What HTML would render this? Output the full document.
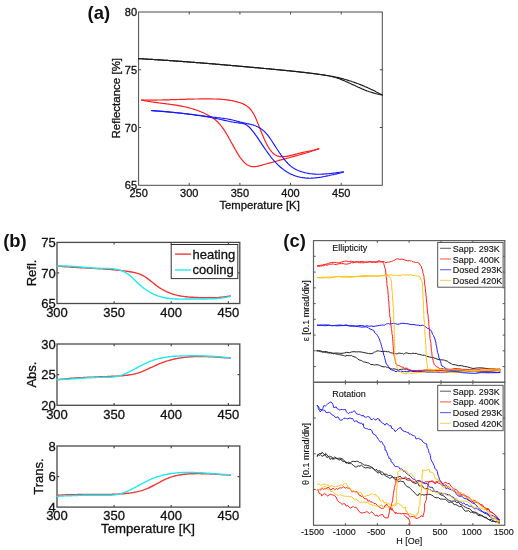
<!DOCTYPE html>
<html><head><meta charset="utf-8"><title>figure</title>
<style>
html,body{margin:0;padding:0;background:#fff;}
body{width:518px;height:550px;overflow:hidden;}
svg{display:block;font-family:"Liberation Sans",Arial,Helvetica,sans-serif;}
</style></head>
<body>
<svg width="518" height="550" viewBox="0 0 518 550">
<rect width="518" height="550" fill="#fff"/>
<text x="98.8" y="18.8" font-size="18.4" text-anchor="middle" font-weight="bold" fill="#111">(a)</text>
<g font-family="'Liberation Sans', Arial, Helvetica, sans-serif">
<rect x="138.6" y="12" width="243.7" height="173.3" fill="none" stroke="#4a4a4a" stroke-width="1.0"/>
<line x1="189.2" y1="185.3" x2="189.2" y2="182.8" stroke="#4a4a4a" stroke-width="1.0"/>
<line x1="189.2" y1="12" x2="189.2" y2="14.5" stroke="#4a4a4a" stroke-width="1.0"/>
<line x1="239.9" y1="185.3" x2="239.9" y2="182.8" stroke="#4a4a4a" stroke-width="1.0"/>
<line x1="239.9" y1="12" x2="239.9" y2="14.5" stroke="#4a4a4a" stroke-width="1.0"/>
<line x1="290.5" y1="185.3" x2="290.5" y2="182.8" stroke="#4a4a4a" stroke-width="1.0"/>
<line x1="290.5" y1="12" x2="290.5" y2="14.5" stroke="#4a4a4a" stroke-width="1.0"/>
<line x1="341.2" y1="185.3" x2="341.2" y2="182.8" stroke="#4a4a4a" stroke-width="1.0"/>
<line x1="341.2" y1="12" x2="341.2" y2="14.5" stroke="#4a4a4a" stroke-width="1.0"/>
<line x1="138.6" y1="127.5" x2="141.1" y2="127.5" stroke="#4a4a4a" stroke-width="1.0"/>
<line x1="382.3" y1="127.5" x2="379.8" y2="127.5" stroke="#4a4a4a" stroke-width="1.0"/>
<line x1="138.6" y1="69.8" x2="141.1" y2="69.8" stroke="#4a4a4a" stroke-width="1.0"/>
<line x1="382.3" y1="69.8" x2="379.8" y2="69.8" stroke="#4a4a4a" stroke-width="1.0"/>
<text x="137.1" y="189.3" font-size="11" text-anchor="end" font-weight="normal" fill="#111" stroke="#111" stroke-width="0.3">65</text>
<text x="137.1" y="131.5" font-size="11" text-anchor="end" font-weight="normal" fill="#111" stroke="#111" stroke-width="0.3">70</text>
<text x="137.1" y="73.8" font-size="11" text-anchor="end" font-weight="normal" fill="#111" stroke="#111" stroke-width="0.3">75</text>
<text x="137.1" y="16" font-size="11" text-anchor="end" font-weight="normal" fill="#111" stroke="#111" stroke-width="0.3">80</text>
<text x="138.6" y="197.3" font-size="11" text-anchor="middle" font-weight="normal" fill="#111" stroke="#111" stroke-width="0.3">250</text>
<text x="189.2" y="197.3" font-size="11" text-anchor="middle" font-weight="normal" fill="#111" stroke="#111" stroke-width="0.3">300</text>
<text x="239.9" y="197.3" font-size="11" text-anchor="middle" font-weight="normal" fill="#111" stroke="#111" stroke-width="0.3">350</text>
<text x="290.5" y="197.3" font-size="11" text-anchor="middle" font-weight="normal" fill="#111" stroke="#111" stroke-width="0.3">400</text>
<text x="341.2" y="197.3" font-size="11" text-anchor="middle" font-weight="normal" fill="#111" stroke="#111" stroke-width="0.3">450</text>
<text x="259.6" y="208.6" font-size="11.3" text-anchor="middle" font-weight="normal" fill="#111" stroke="#111" stroke-width="0.3">Temperature [K]</text>
<text x="120.2" y="98.2" font-size="11.5" text-anchor="middle" font-weight="normal" fill="#111" stroke="#111" stroke-width="0.3" transform="rotate(-90 120.2 98.2)">Reflectance [%]</text>
<path d="M138.6 58.6 L139.6 58.7 L140.6 58.7 L141.6 58.8 L142.6 58.9 L143.6 58.9 L144.6 59 L145.6 59 L146.6 59.1 L147.6 59.2 L148.6 59.2 L149.6 59.3 L150.6 59.3 L151.6 59.4 L152.6 59.5 L153.6 59.5 L154.6 59.6 L155.6 59.7 L156.6 59.7 L157.6 59.8 L158.6 59.8 L159.6 59.9 L160.6 60 L161.6 60 L162.6 60.1 L163.6 60.2 L164.6 60.2 L165.6 60.3 L166.6 60.4 L167.6 60.4 L168.6 60.5 L169.6 60.6 L170.6 60.6 L171.6 60.7 L172.6 60.8 L173.6 60.9 L174.6 60.9 L175.6 61 L176.6 61.1 L177.6 61.1 L178.6 61.2 L179.5 61.3 L180.5 61.4 L181.5 61.4 L182.5 61.5 L183.5 61.6 L184.5 61.7 L185.5 61.7 L186.5 61.8 L187.5 61.9 L188.5 62 L189.5 62 L190.5 62.1 L191.5 62.2 L192.5 62.3 L193.5 62.3 L194.5 62.4 L195.5 62.5 L196.5 62.6 L197.5 62.6 L198.5 62.7 L199.5 62.8 L200.5 62.9 L201.5 63 L202.5 63 L203.5 63.1 L204.5 63.2 L205.5 63.3 L206.5 63.4 L207.5 63.4 L208.5 63.5 L209.5 63.6 L210.5 63.7 L211.5 63.8 L212.5 63.9 L213.5 63.9 L214.5 64 L215.5 64.1 L216.5 64.2 L217.5 64.3 L218.5 64.4 L219.5 64.4 L220.5 64.5 L221.5 64.6 L222.5 64.7 L223.5 64.8 L224.5 64.9 L225.5 65 L226.5 65 L227.5 65.1 L228.5 65.2 L229.5 65.3 L230.5 65.4 L231.5 65.5 L232.5 65.6 L233.5 65.6 L234.5 65.7 L235.5 65.8 L236.5 65.9 L237.5 66 L238.5 66.1 L239.5 66.2 L240.5 66.3 L241.5 66.4 L242.5 66.4 L243.5 66.5 L244.5 66.6 L245.5 66.7 L246.5 66.8 L247.5 66.9 L248.5 67 L249.5 67.1 L250.5 67.2 L251.5 67.3 L252.5 67.3 L253.5 67.4 L254.5 67.5 L255.5 67.6 L256.5 67.7 L257.5 67.8 L258.5 67.9 L259.5 68 L260.4 68.1 L261.4 68.2 L262.4 68.3 L263.4 68.4 L264.4 68.5 L265.4 68.5 L266.4 68.6 L267.4 68.7 L268.4 68.8 L269.4 68.9 L270.4 69 L271.4 69.1 L272.4 69.2 L273.4 69.3 L274.4 69.4 L275.4 69.5 L276.4 69.6 L277.4 69.7 L278.4 69.8 L279.4 69.9 L280.4 70 L281.4 70.1 L282.4 70.2 L283.4 70.3 L284.4 70.4 L285.4 70.5 L286.4 70.6 L287.4 70.7 L288.4 70.8 L289.4 70.9 L290.4 71 L291.4 71.1 L292.4 71.2 L293.4 71.3 L294.4 71.4 L295.4 71.5 L296.4 71.6 L297.4 71.7 L298.4 71.8 L299.4 71.9 L300.4 72.1 L301.4 72.2 L302.4 72.3 L303.4 72.4 L304.4 72.5 L305.4 72.6 L306.4 72.7 L307.4 72.9 L308.4 73 L309.4 73.1 L310.4 73.2 L311.4 73.3 L312.4 73.5 L313.4 73.6 L314.4 73.7 L315.4 73.9 L316.4 74 L317.4 74.1 L318.4 74.2 L319.4 74.4 L320.4 74.5 L321.4 74.6 L322.4 74.8 L323.4 74.9 L324.4 75.1 L325.4 75.2 L326.4 75.4 L327.4 75.5 L328.4 75.7 L329.4 75.8 L330.4 76 L331.4 76.2 L332.4 76.4 L333.4 76.6 L334.4 76.8 L335.4 77 L336.4 77.2 L337.4 77.4 L338.4 77.6 L339.4 77.9 L340.4 78.1 L341.4 78.4 L342.3 78.6 L343.3 78.9 L344.3 79.2 L345.3 79.5 L346.3 79.8 L347.3 80.1 L348.3 80.4 L349.3 80.7 L350.3 81 L351.3 81.3 L352.3 81.7 L353.3 82 L354.3 82.4 L355.3 82.7 L356.3 83.1 L357.3 83.5 L358.3 83.8 L359.3 84.2 L360.3 84.6 L361.3 85 L362.3 85.4 L363.3 85.8 L364.3 86.2 L365.3 86.7 L366.3 87.1 L367.3 87.5 L368.3 88 L369.3 88.4 L370.3 88.9 L371.3 89.4 L372.3 89.9 L373.3 90.3 L374.3 90.8 L375.3 91.3 L376.3 91.9 L377.3 92.4 L378.3 92.9 L379.3 93.5 L380.3 94 L381.3 94.6 L382.3 95.1" fill="none" stroke="#1a1a1a" stroke-width="1.15" stroke-linejoin="round" stroke-linecap="round"/>
<path d="M138.6 58.6 L139.6 58.7 L140.6 58.7 L141.6 58.8 L142.6 58.9 L143.6 58.9 L144.6 59 L145.6 59 L146.6 59.1 L147.6 59.1 L148.6 59.2 L149.6 59.3 L150.6 59.3 L151.6 59.4 L152.6 59.4 L153.6 59.5 L154.6 59.6 L155.6 59.6 L156.6 59.7 L157.6 59.8 L158.6 59.8 L159.6 59.9 L160.6 59.9 L161.6 60 L162.6 60.1 L163.6 60.1 L164.6 60.2 L165.6 60.3 L166.6 60.3 L167.6 60.4 L168.6 60.5 L169.6 60.6 L170.6 60.6 L171.6 60.7 L172.6 60.8 L173.6 60.8 L174.6 60.9 L175.6 61 L176.6 61.1 L177.6 61.1 L178.6 61.2 L179.5 61.3 L180.5 61.3 L181.5 61.4 L182.5 61.5 L183.5 61.6 L184.5 61.6 L185.5 61.7 L186.5 61.8 L187.5 61.9 L188.5 61.9 L189.5 62 L190.5 62.1 L191.5 62.2 L192.5 62.3 L193.5 62.3 L194.5 62.4 L195.5 62.5 L196.5 62.6 L197.5 62.7 L198.5 62.7 L199.5 62.8 L200.5 62.9 L201.5 63 L202.5 63.1 L203.5 63.1 L204.5 63.2 L205.5 63.3 L206.5 63.4 L207.5 63.5 L208.5 63.5 L209.5 63.6 L210.5 63.7 L211.5 63.8 L212.5 63.9 L213.5 64 L214.5 64 L215.5 64.1 L216.5 64.2 L217.5 64.3 L218.5 64.4 L219.5 64.5 L220.5 64.6 L221.5 64.6 L222.5 64.7 L223.5 64.8 L224.5 64.9 L225.5 65 L226.5 65.1 L227.5 65.2 L228.5 65.2 L229.5 65.3 L230.5 65.4 L231.5 65.5 L232.5 65.6 L233.5 65.7 L234.5 65.8 L235.5 65.9 L236.5 66 L237.5 66 L238.5 66.1 L239.5 66.2 L240.5 66.3 L241.5 66.4 L242.5 66.5 L243.5 66.6 L244.5 66.7 L245.5 66.8 L246.5 66.8 L247.5 66.9 L248.5 67 L249.5 67.1 L250.5 67.2 L251.5 67.3 L252.5 67.4 L253.5 67.5 L254.5 67.6 L255.5 67.6 L256.5 67.7 L257.5 67.8 L258.5 67.9 L259.5 68 L260.4 68.1 L261.4 68.2 L262.4 68.3 L263.4 68.4 L264.4 68.5 L265.4 68.5 L266.4 68.6 L267.4 68.7 L268.4 68.8 L269.4 68.9 L270.4 69 L271.4 69.1 L272.4 69.2 L273.4 69.3 L274.4 69.4 L275.4 69.5 L276.4 69.5 L277.4 69.6 L278.4 69.7 L279.4 69.8 L280.4 69.9 L281.4 70 L282.4 70.1 L283.4 70.2 L284.4 70.3 L285.4 70.4 L286.4 70.5 L287.4 70.6 L288.4 70.7 L289.4 70.8 L290.4 70.9 L291.4 71 L292.4 71.1 L293.4 71.2 L294.4 71.3 L295.4 71.4 L296.4 71.5 L297.4 71.6 L298.4 71.7 L299.4 71.9 L300.4 72 L301.4 72.1 L302.4 72.2 L303.4 72.3 L304.4 72.4 L305.4 72.5 L306.4 72.7 L307.4 72.8 L308.4 72.9 L309.4 73 L310.4 73.2 L311.4 73.3 L312.4 73.4 L313.4 73.5 L314.4 73.7 L315.4 73.8 L316.4 74 L317.4 74.1 L318.4 74.2 L319.4 74.4 L320.4 74.5 L321.4 74.7 L322.4 74.8 L323.4 75 L324.4 75.1 L325.4 75.3 L326.4 75.5 L327.4 75.7 L328.4 75.8 L329.4 76 L330.4 76.3 L331.4 76.5 L332.4 76.7 L333.4 77 L334.4 77.2 L335.4 77.5 L336.4 77.8 L337.4 78.2 L338.4 78.5 L339.4 78.8 L340.4 79.2 L341.4 79.6 L342.3 80 L343.3 80.4 L344.3 80.8 L345.3 81.2 L346.3 81.7 L347.3 82.1 L348.3 82.6 L349.3 83 L350.3 83.5 L351.3 83.9 L352.3 84.4 L353.3 84.9 L354.3 85.3 L355.3 85.8 L356.3 86.3 L357.3 86.7 L358.3 87.2 L359.3 87.6 L360.3 88.1 L361.3 88.5 L362.3 89 L363.3 89.4 L364.3 89.8 L365.3 90.2 L366.3 90.6 L367.3 91 L368.3 91.3 L369.3 91.7 L370.3 92 L371.3 92.3 L372.3 92.6 L373.3 92.9 L374.3 93.2 L375.3 93.5 L376.3 93.8 L377.3 94 L378.3 94.2 L379.3 94.5 L380.3 94.7 L381.3 94.8 L382.3 95" fill="none" stroke="#1a1a1a" stroke-width="1.15" stroke-linejoin="round" stroke-linecap="round"/>
<path d="M141.5 100 L142.5 100 L143.5 100 L144.5 100.1 L145.5 100.1 L146.5 100.1 L147.5 100.1 L148.5 100.1 L149.5 100.1 L150.5 100.1 L151.5 100.1 L152.5 100.1 L153.5 100.1 L154.4 100.1 L155.4 100.1 L156.4 100.1 L157.4 100 L158.4 100 L159.4 100 L160.4 100 L161.4 100 L162.4 99.9 L163.4 99.9 L164.4 99.9 L165.4 99.9 L166.4 99.9 L167.4 99.8 L168.4 99.8 L169.4 99.8 L170.4 99.7 L171.4 99.7 L172.4 99.7 L173.4 99.7 L174.4 99.6 L175.4 99.6 L176.4 99.6 L177.4 99.5 L178.4 99.5 L179.4 99.5 L180.3 99.4 L181.3 99.4 L182.3 99.4 L183.3 99.3 L184.3 99.3 L185.3 99.3 L186.3 99.2 L187.3 99.2 L188.3 99.2 L189.3 99.2 L190.3 99.1 L191.3 99.1 L192.3 99.1 L193.3 99.1 L194.3 99 L195.3 99 L196.3 99 L197.3 99 L198.3 99 L199.3 98.9 L200.3 98.9 L201.3 98.9 L202.3 98.9 L203.3 98.9 L204.3 98.9 L205.2 98.9 L206.2 98.9 L207.2 98.9 L208.2 98.9 L209.2 98.9 L210.2 98.9 L211.2 98.9 L212.2 98.9 L213.2 99 L214.2 99 L215.2 99 L216.2 99 L217.2 99.1 L218.2 99.1 L219.2 99.2 L220.2 99.2 L221.2 99.3 L222.2 99.4 L223.2 99.5 L224.2 99.6 L225.2 99.7 L226.2 99.8 L227.2 99.9 L228.2 100.1 L229.2 100.2 L230.2 100.4 L231.1 100.5 L232.1 100.7 L233.1 100.9 L234.1 101.2 L235.1 101.4 L236.1 101.6 L237.1 101.9 L238.1 102.2 L239.1 102.5 L240.1 102.8 L241.1 103.1 L242.1 103.5 L243.1 103.9 L244.1 104.4 L245.1 104.9 L246.1 105.5 L247.1 106.2 L248.1 107 L249.1 107.9 L250.1 109 L251.1 110.2 L252.1 111.5 L253.1 113.1 L254.1 114.8 L255.1 116.7 L256 118.8 L257 121.1 L258 123.6 L259 126.1 L260 128.6 L261 131.2 L262 133.7 L263 136.1 L264 138.5 L265 140.7 L266 142.8 L267 144.7 L268 146.5 L269 148.1 L270 149.6 L271 150.9 L272 152.1 L273 153.2 L274 154 L275 154.7 L276 155.3 L277 155.8 L278 156.1 L279 156.4 L280 156.6 L280.9 156.6 L281.9 156.7 L282.9 156.7 L283.9 156.6 L284.9 156.5 L285.9 156.4 L286.9 156.3 L287.9 156.1 L288.9 155.9 L289.9 155.7 L290.9 155.4 L291.9 155.2 L292.9 154.9 L293.9 154.7 L294.9 154.4 L295.9 154.1 L296.9 153.9 L297.9 153.6 L298.9 153.3 L299.9 153.1 L300.9 152.8 L301.9 152.6 L302.9 152.4 L303.9 152.2 L304.9 152 L305.9 151.8 L306.8 151.6 L307.8 151.4 L308.8 151.2 L309.8 151 L310.8 150.8 L311.8 150.6 L312.8 150.3 L313.8 150.1 L314.8 149.8 L315.8 149.5 L316.8 149.2 L317.8 148.9 L318.8 148.6" fill="none" stroke="#ff2020" stroke-width="1.2" stroke-linejoin="round" stroke-linecap="round"/>
<path d="M141.5 100 L142.5 100.2 L143.5 100.4 L144.5 100.6 L145.5 100.8 L146.5 101 L147.5 101.2 L148.5 101.4 L149.5 101.5 L150.5 101.7 L151.5 101.8 L152.5 102 L153.5 102.1 L154.4 102.3 L155.4 102.4 L156.4 102.6 L157.4 102.7 L158.4 102.8 L159.4 103 L160.4 103.1 L161.4 103.2 L162.4 103.3 L163.4 103.5 L164.4 103.6 L165.4 103.7 L166.4 103.8 L167.4 104 L168.4 104.1 L169.4 104.2 L170.4 104.4 L171.4 104.5 L172.4 104.6 L173.4 104.8 L174.4 104.9 L175.4 105.1 L176.4 105.2 L177.4 105.4 L178.4 105.6 L179.4 105.8 L180.3 105.9 L181.3 106.1 L182.3 106.3 L183.3 106.5 L184.3 106.7 L185.3 107 L186.3 107.2 L187.3 107.4 L188.3 107.7 L189.3 107.9 L190.3 108.2 L191.3 108.5 L192.3 108.8 L193.3 109.1 L194.3 109.4 L195.3 109.7 L196.3 110 L197.3 110.4 L198.3 110.8 L199.3 111.1 L200.3 111.5 L201.3 112 L202.3 112.4 L203.3 112.8 L204.3 113.3 L205.2 113.8 L206.2 114.3 L207.2 114.8 L208.2 115.3 L209.2 115.8 L210.2 116.4 L211.2 117 L212.2 117.6 L213.2 118.3 L214.2 119 L215.2 119.8 L216.2 120.6 L217.2 121.5 L218.2 122.5 L219.2 123.6 L220.2 124.7 L221.2 126 L222.2 127.3 L223.2 128.7 L224.2 130.2 L225.2 131.8 L226.2 133.4 L227.2 135 L228.2 136.7 L229.2 138.5 L230.2 140.2 L231.1 142 L232.1 143.8 L233.1 145.6 L234.1 147.4 L235.1 149.2 L236.1 150.9 L237.1 152.6 L238.1 154.3 L239.1 155.8 L240.1 157.3 L241.1 158.7 L242.1 160 L243.1 161.1 L244.1 162.2 L245.1 163.1 L246.1 164 L247.1 164.7 L248.1 165.3 L249.1 165.8 L250.1 166.1 L251.1 166.4 L252.1 166.6 L253.1 166.7 L254.1 166.7 L255.1 166.6 L256 166.5 L257 166.4 L258 166.1 L259 165.9 L260 165.6 L261 165.4 L262 165.1 L263 164.8 L264 164.5 L265 164.2 L266 164 L267 163.7 L268 163.4 L269 163.1 L270 162.9 L271 162.6 L272 162.3 L273 162.1 L274 161.8 L275 161.5 L276 161.3 L277 161 L278 160.7 L279 160.4 L280 160.2 L280.9 159.9 L281.9 159.6 L282.9 159.4 L283.9 159.1 L284.9 158.8 L285.9 158.6 L286.9 158.3 L287.9 158 L288.9 157.8 L289.9 157.5 L290.9 157.2 L291.9 156.9 L292.9 156.7 L293.9 156.4 L294.9 156.1 L295.9 155.8 L296.9 155.6 L297.9 155.3 L298.9 155 L299.9 154.7 L300.9 154.4 L301.9 154.1 L302.9 153.8 L303.9 153.6 L304.9 153.3 L305.9 153 L306.8 152.7 L307.8 152.4 L308.8 152.1 L309.8 151.8 L310.8 151.4 L311.8 151.1 L312.8 150.8 L313.8 150.5 L314.8 150.2 L315.8 149.9 L316.8 149.5 L317.8 149.2 L318.8 148.9" fill="none" stroke="#ff2020" stroke-width="1.2" stroke-linejoin="round" stroke-linecap="round"/>
<path d="M151.7 110.6 L152.7 110.7 L153.7 110.8 L154.7 110.8 L155.7 110.9 L156.7 111 L157.7 111.1 L158.7 111.2 L159.7 111.3 L160.7 111.3 L161.7 111.4 L162.7 111.5 L163.7 111.6 L164.7 111.7 L165.7 111.8 L166.7 111.9 L167.7 111.9 L168.7 112 L169.7 112.1 L170.7 112.2 L171.7 112.3 L172.7 112.4 L173.7 112.5 L174.7 112.6 L175.7 112.7 L176.7 112.8 L177.7 112.9 L178.7 113 L179.7 113.1 L180.7 113.2 L181.7 113.3 L182.7 113.4 L183.6 113.5 L184.6 113.7 L185.6 113.8 L186.6 113.9 L187.6 114 L188.6 114.1 L189.6 114.3 L190.6 114.4 L191.6 114.5 L192.6 114.7 L193.6 114.8 L194.6 114.9 L195.6 115.1 L196.6 115.2 L197.6 115.3 L198.6 115.5 L199.6 115.6 L200.6 115.8 L201.6 115.9 L202.6 116.1 L203.6 116.3 L204.6 116.4 L205.6 116.6 L206.6 116.8 L207.6 116.9 L208.6 117.1 L209.6 117.3 L210.6 117.5 L211.6 117.7 L212.6 117.8 L213.6 118 L214.6 118.2 L215.6 118.4 L216.6 118.6 L217.6 118.8 L218.6 119 L219.6 119.3 L220.6 119.5 L221.6 119.7 L222.6 119.9 L223.6 120.1 L224.6 120.4 L225.6 120.6 L226.6 120.8 L227.6 121 L228.6 121.2 L229.6 121.5 L230.6 121.7 L231.6 121.9 L232.6 122 L233.6 122.2 L234.6 122.4 L235.6 122.5 L236.6 122.7 L237.6 122.8 L238.6 122.9 L239.6 123.1 L240.6 123.1 L241.6 123.2 L242.6 123.4 L243.6 123.6 L244.6 123.9 L245.6 124.4 L246.6 124.9 L247.5 125.7 L248.5 126.5 L249.5 127.4 L250.5 128.5 L251.5 129.6 L252.5 130.8 L253.5 132.1 L254.5 133.4 L255.5 134.8 L256.5 136.2 L257.5 137.6 L258.5 139.1 L259.5 140.6 L260.5 142.1 L261.5 143.6 L262.5 145.1 L263.5 146.6 L264.5 148.1 L265.5 149.5 L266.5 151 L267.5 152.4 L268.5 153.8 L269.5 155.2 L270.5 156.5 L271.5 157.8 L272.5 159 L273.5 160.2 L274.5 161.3 L275.5 162.4 L276.5 163.4 L277.5 164.4 L278.5 165.4 L279.5 166.3 L280.5 167.2 L281.5 168 L282.5 168.8 L283.5 169.6 L284.5 170.3 L285.5 171 L286.5 171.7 L287.5 172.3 L288.5 172.8 L289.5 173.4 L290.5 173.9 L291.5 174.4 L292.5 174.8 L293.5 175.2 L294.5 175.6 L295.5 176 L296.5 176.3 L297.5 176.6 L298.5 176.8 L299.5 177.1 L300.5 177.3 L301.5 177.5 L302.5 177.6 L303.5 177.8 L304.5 177.9 L305.5 178 L306.5 178.1 L307.5 178.1 L308.5 178.1 L309.5 178.2 L310.5 178.2 L311.4 178.1 L312.4 178.1 L313.4 178 L314.4 178 L315.4 177.9 L316.4 177.8 L317.4 177.6 L318.4 177.5 L319.4 177.4 L320.4 177.2 L321.4 177.1 L322.4 176.9 L323.4 176.7 L324.4 176.5 L325.4 176.3 L326.4 176.1 L327.4 175.9 L328.4 175.7 L329.4 175.5 L330.4 175.2 L331.4 175 L332.4 174.8 L333.4 174.6 L334.4 174.3 L335.4 174.1 L336.4 173.9 L337.4 173.6 L338.4 173.4 L339.4 173.2 L340.4 173 L341.4 172.7 L342.4 172.5 L343.4 172.3" fill="none" stroke="#1818ff" stroke-width="1.15" stroke-linejoin="round" stroke-linecap="round"/>
<path d="M151.7 110.6 L152.7 110.6 L153.7 110.7 L154.7 110.8 L155.7 110.8 L156.7 110.9 L157.7 111 L158.7 111 L159.7 111.1 L160.7 111.2 L161.7 111.3 L162.7 111.3 L163.7 111.4 L164.7 111.5 L165.7 111.6 L166.7 111.7 L167.7 111.8 L168.7 111.9 L169.7 112 L170.7 112.1 L171.7 112.2 L172.7 112.3 L173.7 112.4 L174.7 112.5 L175.7 112.6 L176.7 112.7 L177.7 112.8 L178.7 112.9 L179.7 113 L180.7 113.1 L181.7 113.2 L182.7 113.3 L183.6 113.5 L184.6 113.6 L185.6 113.7 L186.6 113.8 L187.6 113.9 L188.6 114.1 L189.6 114.2 L190.6 114.3 L191.6 114.4 L192.6 114.5 L193.6 114.7 L194.6 114.8 L195.6 114.9 L196.6 115 L197.6 115.2 L198.6 115.3 L199.6 115.4 L200.6 115.5 L201.6 115.7 L202.6 115.8 L203.6 115.9 L204.6 116.1 L205.6 116.2 L206.6 116.3 L207.6 116.4 L208.6 116.6 L209.6 116.7 L210.6 116.8 L211.6 116.9 L212.6 117.1 L213.6 117.2 L214.6 117.3 L215.6 117.4 L216.6 117.6 L217.6 117.7 L218.6 117.8 L219.6 117.9 L220.6 118 L221.6 118.2 L222.6 118.3 L223.6 118.4 L224.6 118.5 L225.6 118.7 L226.6 118.8 L227.6 119 L228.6 119.2 L229.6 119.4 L230.6 119.6 L231.6 119.8 L232.6 120 L233.6 120.3 L234.6 120.5 L235.6 120.8 L236.6 121.1 L237.6 121.3 L238.6 121.6 L239.6 121.9 L240.6 122.2 L241.6 122.4 L242.6 122.7 L243.6 122.9 L244.6 123.1 L245.6 123.3 L246.6 123.5 L247.5 123.7 L248.5 123.9 L249.5 124.1 L250.5 124.3 L251.5 124.6 L252.5 124.8 L253.5 125.1 L254.5 125.5 L255.5 125.8 L256.5 126.3 L257.5 126.7 L258.5 127.2 L259.5 127.8 L260.5 128.4 L261.5 129.1 L262.5 129.9 L263.5 130.7 L264.5 131.7 L265.5 132.7 L266.5 133.8 L267.5 134.9 L268.5 136.2 L269.5 137.6 L270.5 139 L271.5 140.5 L272.5 142 L273.5 143.6 L274.5 145.1 L275.5 146.7 L276.5 148.3 L277.5 149.8 L278.5 151.3 L279.5 152.8 L280.5 154.2 L281.5 155.7 L282.5 157 L283.5 158.3 L284.5 159.6 L285.5 160.8 L286.5 162 L287.5 163 L288.5 164.1 L289.5 165 L290.5 165.9 L291.5 166.7 L292.5 167.4 L293.5 168.1 L294.5 168.7 L295.5 169.3 L296.5 169.8 L297.5 170.2 L298.5 170.7 L299.5 171 L300.5 171.4 L301.5 171.7 L302.5 172 L303.5 172.3 L304.5 172.6 L305.5 172.8 L306.5 173 L307.5 173.2 L308.5 173.4 L309.5 173.6 L310.5 173.7 L311.4 173.8 L312.4 173.9 L313.4 174 L314.4 174.1 L315.4 174.1 L316.4 174.2 L317.4 174.2 L318.4 174.2 L319.4 174.2 L320.4 174.2 L321.4 174.2 L322.4 174.1 L323.4 174.1 L324.4 174 L325.4 173.9 L326.4 173.9 L327.4 173.8 L328.4 173.7 L329.4 173.6 L330.4 173.5 L331.4 173.4 L332.4 173.2 L333.4 173.1 L334.4 173 L335.4 172.9 L336.4 172.7 L337.4 172.6 L338.4 172.5 L339.4 172.3 L340.4 172.2 L341.4 172 L342.4 171.9 L343.4 171.8" fill="none" stroke="#1818ff" stroke-width="1.15" stroke-linejoin="round" stroke-linecap="round"/>
</g>
<g font-family="'Liberation Sans', Arial, Helvetica, sans-serif">
<text x="15" y="246.7" font-size="18.4" text-anchor="middle" font-weight="bold" fill="#111">(b)</text>
<rect x="57" y="242.4" width="182.8" height="61.1" fill="none" stroke="#484848" stroke-width="1.3"/>
<line x1="114.1" y1="303.5" x2="114.1" y2="301.3" stroke="#484848" stroke-width="1.2"/>
<line x1="114.1" y1="242.4" x2="114.1" y2="244.6" stroke="#484848" stroke-width="1.2"/>
<line x1="171.2" y1="303.5" x2="171.2" y2="301.3" stroke="#484848" stroke-width="1.2"/>
<line x1="171.2" y1="242.4" x2="171.2" y2="244.6" stroke="#484848" stroke-width="1.2"/>
<line x1="228.4" y1="303.5" x2="228.4" y2="301.3" stroke="#484848" stroke-width="1.2"/>
<line x1="228.4" y1="242.4" x2="228.4" y2="244.6" stroke="#484848" stroke-width="1.2"/>
<line x1="57" y1="272.9" x2="59.2" y2="272.9" stroke="#484848" stroke-width="1.2"/>
<line x1="239.8" y1="272.9" x2="237.6" y2="272.9" stroke="#484848" stroke-width="1.2"/>
<text x="55.8" y="308.1" font-size="13" text-anchor="end" font-weight="normal" fill="#111" stroke="#111" stroke-width="0.3">65</text>
<text x="55.8" y="277.6" font-size="13" text-anchor="end" font-weight="normal" fill="#111" stroke="#111" stroke-width="0.3">70</text>
<text x="55.8" y="247" font-size="13" text-anchor="end" font-weight="normal" fill="#111" stroke="#111" stroke-width="0.3">75</text>
<text x="57" y="316.7" font-size="13" text-anchor="middle" font-weight="normal" fill="#111" stroke="#111" stroke-width="0.3">300</text>
<text x="114.1" y="316.7" font-size="13" text-anchor="middle" font-weight="normal" fill="#111" stroke="#111" stroke-width="0.3">350</text>
<text x="171.2" y="316.7" font-size="13" text-anchor="middle" font-weight="normal" fill="#111" stroke="#111" stroke-width="0.3">400</text>
<text x="228.4" y="316.7" font-size="13" text-anchor="middle" font-weight="normal" fill="#111" stroke="#111" stroke-width="0.3">450</text>
<text x="35.7" y="272.9" font-size="13" text-anchor="middle" font-weight="normal" fill="#111" stroke="#111" stroke-width="0.3" transform="rotate(-90 35.7 272.9)">Refl.</text>
<rect x="57" y="344" width="182.8" height="61.3" fill="none" stroke="#484848" stroke-width="1.3"/>
<line x1="114.1" y1="405.3" x2="114.1" y2="403.1" stroke="#484848" stroke-width="1.2"/>
<line x1="114.1" y1="344" x2="114.1" y2="346.2" stroke="#484848" stroke-width="1.2"/>
<line x1="171.2" y1="405.3" x2="171.2" y2="403.1" stroke="#484848" stroke-width="1.2"/>
<line x1="171.2" y1="344" x2="171.2" y2="346.2" stroke="#484848" stroke-width="1.2"/>
<line x1="228.4" y1="405.3" x2="228.4" y2="403.1" stroke="#484848" stroke-width="1.2"/>
<line x1="228.4" y1="344" x2="228.4" y2="346.2" stroke="#484848" stroke-width="1.2"/>
<line x1="57" y1="374.6" x2="59.2" y2="374.6" stroke="#484848" stroke-width="1.2"/>
<line x1="239.8" y1="374.6" x2="237.6" y2="374.6" stroke="#484848" stroke-width="1.2"/>
<text x="55.8" y="409.9" font-size="13" text-anchor="end" font-weight="normal" fill="#111" stroke="#111" stroke-width="0.3">20</text>
<text x="55.8" y="379.2" font-size="13" text-anchor="end" font-weight="normal" fill="#111" stroke="#111" stroke-width="0.3">25</text>
<text x="55.8" y="348.6" font-size="13" text-anchor="end" font-weight="normal" fill="#111" stroke="#111" stroke-width="0.3">30</text>
<text x="57" y="418.5" font-size="13" text-anchor="middle" font-weight="normal" fill="#111" stroke="#111" stroke-width="0.3">300</text>
<text x="114.1" y="418.5" font-size="13" text-anchor="middle" font-weight="normal" fill="#111" stroke="#111" stroke-width="0.3">350</text>
<text x="171.2" y="418.5" font-size="13" text-anchor="middle" font-weight="normal" fill="#111" stroke="#111" stroke-width="0.3">400</text>
<text x="228.4" y="418.5" font-size="13" text-anchor="middle" font-weight="normal" fill="#111" stroke="#111" stroke-width="0.3">450</text>
<text x="36.4" y="374.6" font-size="13" text-anchor="middle" font-weight="normal" fill="#111" stroke="#111" stroke-width="0.3" transform="rotate(-90 36.4 374.6)">Abs.</text>
<rect x="57" y="446" width="182.8" height="61.1" fill="none" stroke="#484848" stroke-width="1.3"/>
<line x1="114.1" y1="507.1" x2="114.1" y2="504.9" stroke="#484848" stroke-width="1.2"/>
<line x1="114.1" y1="446" x2="114.1" y2="448.2" stroke="#484848" stroke-width="1.2"/>
<line x1="171.2" y1="507.1" x2="171.2" y2="504.9" stroke="#484848" stroke-width="1.2"/>
<line x1="171.2" y1="446" x2="171.2" y2="448.2" stroke="#484848" stroke-width="1.2"/>
<line x1="228.4" y1="507.1" x2="228.4" y2="504.9" stroke="#484848" stroke-width="1.2"/>
<line x1="228.4" y1="446" x2="228.4" y2="448.2" stroke="#484848" stroke-width="1.2"/>
<line x1="57" y1="476.6" x2="59.2" y2="476.6" stroke="#484848" stroke-width="1.2"/>
<line x1="239.8" y1="476.6" x2="237.6" y2="476.6" stroke="#484848" stroke-width="1.2"/>
<text x="55.8" y="511.7" font-size="13" text-anchor="end" font-weight="normal" fill="#111" stroke="#111" stroke-width="0.3">4</text>
<text x="55.8" y="481.2" font-size="13" text-anchor="end" font-weight="normal" fill="#111" stroke="#111" stroke-width="0.3">6</text>
<text x="55.8" y="450.6" font-size="13" text-anchor="end" font-weight="normal" fill="#111" stroke="#111" stroke-width="0.3">8</text>
<text x="57" y="520.3" font-size="13" text-anchor="middle" font-weight="normal" fill="#111" stroke="#111" stroke-width="0.3">300</text>
<text x="114.1" y="520.3" font-size="13" text-anchor="middle" font-weight="normal" fill="#111" stroke="#111" stroke-width="0.3">350</text>
<text x="171.2" y="520.3" font-size="13" text-anchor="middle" font-weight="normal" fill="#111" stroke="#111" stroke-width="0.3">400</text>
<text x="228.4" y="520.3" font-size="13" text-anchor="middle" font-weight="normal" fill="#111" stroke="#111" stroke-width="0.3">450</text>
<text x="43.3" y="476.6" font-size="13" text-anchor="middle" font-weight="normal" fill="#111" stroke="#111" stroke-width="0.3" transform="rotate(-90 43.3 476.6)">Trans.</text>
<text x="148" y="533.4" font-size="13.2" text-anchor="middle" font-weight="normal" fill="#111" stroke="#111" stroke-width="0.3">Temperature [K]</text>
<path d="M56.8 265.9 L57.8 266 L58.8 266.1 L59.8 266.2 L60.8 266.3 L61.8 266.4 L62.8 266.5 L63.8 266.6 L64.8 266.7 L65.8 266.7 L66.8 266.8 L67.8 266.9 L68.8 266.9 L69.8 267 L70.8 267.1 L71.8 267.2 L72.8 267.2 L73.8 267.3 L74.8 267.3 L75.8 267.4 L76.8 267.5 L77.8 267.5 L78.7 267.6 L79.7 267.6 L80.7 267.7 L81.7 267.7 L82.7 267.8 L83.7 267.9 L84.7 267.9 L85.7 268 L86.7 268 L87.7 268.1 L88.7 268.1 L89.7 268.2 L90.7 268.2 L91.7 268.3 L92.7 268.3 L93.7 268.4 L94.7 268.4 L95.7 268.5 L96.7 268.6 L97.7 268.6 L98.7 268.7 L99.7 268.7 L100.7 268.8 L101.7 268.9 L102.7 268.9 L103.7 269 L104.7 269.1 L105.7 269.1 L106.7 269.2 L107.7 269.3 L108.7 269.4 L109.7 269.4 L110.7 269.5 L111.7 269.6 L112.7 269.7 L113.7 269.8 L114.7 269.9 L115.7 270 L116.7 270.1 L117.7 270.2 L118.7 270.3 L119.7 270.4 L120.7 270.5 L121.7 270.6 L122.6 270.7 L123.6 270.9 L124.6 271 L125.6 271.1 L126.6 271.2 L127.6 271.4 L128.6 271.5 L129.6 271.7 L130.6 271.8 L131.6 272 L132.6 272.2 L133.6 272.4 L134.6 272.6 L135.6 272.8 L136.6 273.1 L137.6 273.4 L138.6 273.7 L139.6 274.1 L140.6 274.5 L141.6 274.9 L142.6 275.4 L143.6 275.9 L144.6 276.5 L145.6 277.2 L146.6 277.9 L147.6 278.6 L148.6 279.4 L149.6 280.1 L150.6 280.9 L151.6 281.7 L152.6 282.5 L153.6 283.3 L154.6 284.1 L155.6 284.9 L156.6 285.7 L157.6 286.4 L158.6 287.1 L159.6 287.8 L160.6 288.4 L161.6 289 L162.6 289.6 L163.6 290.2 L164.6 290.7 L165.5 291.2 L166.5 291.7 L167.5 292.1 L168.5 292.5 L169.5 292.9 L170.5 293.3 L171.5 293.7 L172.5 294 L173.5 294.3 L174.5 294.6 L175.5 294.9 L176.5 295.1 L177.5 295.3 L178.5 295.6 L179.5 295.8 L180.5 296 L181.5 296.1 L182.5 296.3 L183.5 296.4 L184.5 296.6 L185.5 296.7 L186.5 296.8 L187.5 296.9 L188.5 297 L189.5 297.1 L190.5 297.2 L191.5 297.2 L192.5 297.3 L193.5 297.3 L194.5 297.4 L195.5 297.4 L196.5 297.5 L197.5 297.5 L198.5 297.6 L199.5 297.6 L200.5 297.7 L201.5 297.7 L202.5 297.7 L203.5 297.8 L204.5 297.8 L205.5 297.8 L206.5 297.8 L207.5 297.8 L208.5 297.8 L209.4 297.8 L210.4 297.8 L211.4 297.8 L212.4 297.8 L213.4 297.8 L214.4 297.7 L215.4 297.7 L216.4 297.6 L217.4 297.6 L218.4 297.5 L219.4 297.4 L220.4 297.3 L221.4 297.2 L222.4 297.1 L223.4 297 L224.4 296.9 L225.4 296.7 L226.4 296.6 L227.4 296.4 L228.4 296.2 L229.4 296.1 L230.4 295.9" fill="none" stroke="#f03838" stroke-width="1.4" stroke-linejoin="round" stroke-linecap="round"/>
<path d="M56.8 266 L57.8 266 L58.8 265.9 L59.8 265.9 L60.8 265.9 L61.8 265.9 L62.8 265.9 L63.8 266 L64.8 266 L65.8 266 L66.8 266 L67.8 266.1 L68.8 266.1 L69.8 266.2 L70.8 266.3 L71.8 266.3 L72.8 266.4 L73.8 266.5 L74.8 266.5 L75.8 266.6 L76.8 266.7 L77.8 266.8 L78.7 266.9 L79.7 266.9 L80.7 267 L81.7 267.1 L82.7 267.2 L83.7 267.3 L84.7 267.4 L85.7 267.5 L86.7 267.5 L87.7 267.6 L88.7 267.7 L89.7 267.8 L90.7 267.9 L91.7 267.9 L92.7 268 L93.7 268.1 L94.7 268.1 L95.7 268.2 L96.7 268.2 L97.7 268.3 L98.7 268.3 L99.7 268.3 L100.7 268.4 L101.7 268.4 L102.7 268.4 L103.7 268.4 L104.7 268.4 L105.7 268.4 L106.7 268.5 L107.7 268.5 L108.7 268.5 L109.7 268.6 L110.7 268.6 L111.7 268.7 L112.7 268.8 L113.7 268.9 L114.7 269 L115.7 269.2 L116.7 269.4 L117.7 269.6 L118.7 269.8 L119.7 270.1 L120.7 270.4 L121.7 270.7 L122.6 271.1 L123.6 271.5 L124.6 272 L125.6 272.6 L126.6 273.2 L127.6 273.9 L128.6 274.6 L129.6 275.4 L130.6 276.2 L131.6 277.1 L132.6 278 L133.6 279 L134.6 280 L135.6 281 L136.6 281.9 L137.6 282.9 L138.6 283.8 L139.6 284.8 L140.6 285.6 L141.6 286.5 L142.6 287.3 L143.6 288.1 L144.6 288.8 L145.6 289.5 L146.6 290.2 L147.6 290.9 L148.6 291.5 L149.6 292.1 L150.6 292.6 L151.6 293.2 L152.6 293.7 L153.6 294.1 L154.6 294.6 L155.6 295 L156.6 295.4 L157.6 295.8 L158.6 296.1 L159.6 296.4 L160.6 296.7 L161.6 297 L162.6 297.2 L163.6 297.5 L164.6 297.7 L165.5 297.9 L166.5 298 L167.5 298.2 L168.5 298.3 L169.5 298.5 L170.5 298.6 L171.5 298.7 L172.5 298.8 L173.5 298.8 L174.5 298.9 L175.5 299 L176.5 299 L177.5 299 L178.5 299 L179.5 299.1 L180.5 299.1 L181.5 299.1 L182.5 299.1 L183.5 299.1 L184.5 299.1 L185.5 299 L186.5 299 L187.5 299 L188.5 299 L189.5 299 L190.5 299 L191.5 299 L192.5 299 L193.5 299 L194.5 299 L195.5 299 L196.5 299 L197.5 299 L198.5 299 L199.5 299 L200.5 299 L201.5 299 L202.5 299 L203.5 299 L204.5 299 L205.5 299 L206.5 299 L207.5 298.9 L208.5 298.9 L209.4 298.9 L210.4 298.9 L211.4 298.8 L212.4 298.8 L213.4 298.7 L214.4 298.7 L215.4 298.6 L216.4 298.6 L217.4 298.5 L218.4 298.4 L219.4 298.3 L220.4 298.2 L221.4 298.1 L222.4 297.9 L223.4 297.8 L224.4 297.6 L225.4 297.5 L226.4 297.3 L227.4 297.1 L228.4 296.9 L229.4 296.7 L230.4 296.4" fill="none" stroke="#20e8f0" stroke-width="1.4" stroke-linejoin="round" stroke-linecap="round"/>
<path d="M56.8 379.8 L57.8 379.6 L58.8 379.5 L59.8 379.4 L60.8 379.3 L61.8 379.2 L62.8 379.1 L63.8 379 L64.8 378.9 L65.8 378.8 L66.8 378.7 L67.8 378.6 L68.8 378.5 L69.8 378.4 L70.8 378.3 L71.8 378.2 L72.8 378.2 L73.8 378.1 L74.8 378 L75.8 378 L76.8 377.9 L77.8 377.8 L78.7 377.8 L79.7 377.7 L80.7 377.7 L81.7 377.6 L82.7 377.6 L83.7 377.5 L84.7 377.5 L85.7 377.4 L86.7 377.4 L87.7 377.3 L88.7 377.3 L89.7 377.2 L90.7 377.2 L91.7 377.2 L92.7 377.1 L93.7 377.1 L94.7 377 L95.7 377 L96.7 377 L97.7 376.9 L98.7 376.9 L99.7 376.8 L100.7 376.8 L101.7 376.8 L102.7 376.7 L103.7 376.7 L104.7 376.7 L105.7 376.6 L106.7 376.6 L107.7 376.5 L108.7 376.5 L109.7 376.4 L110.7 376.4 L111.7 376.3 L112.7 376.3 L113.7 376.2 L114.7 376.2 L115.7 376.1 L116.7 376.1 L117.7 376 L118.7 376 L119.7 375.9 L120.7 375.8 L121.7 375.7 L122.6 375.7 L123.6 375.6 L124.6 375.5 L125.6 375.4 L126.6 375.3 L127.6 375.2 L128.6 375 L129.6 374.9 L130.6 374.7 L131.6 374.6 L132.6 374.4 L133.6 374.2 L134.6 373.9 L135.6 373.7 L136.6 373.4 L137.6 373.1 L138.6 372.8 L139.6 372.5 L140.6 372.1 L141.6 371.8 L142.6 371.4 L143.6 370.9 L144.6 370.5 L145.6 370.1 L146.6 369.6 L147.6 369.2 L148.6 368.7 L149.6 368.2 L150.6 367.7 L151.6 367.3 L152.6 366.8 L153.6 366.3 L154.6 365.9 L155.6 365.4 L156.6 365 L157.6 364.5 L158.6 364.1 L159.6 363.7 L160.6 363.3 L161.6 362.9 L162.6 362.5 L163.6 362.2 L164.6 361.8 L165.5 361.5 L166.5 361.2 L167.5 360.9 L168.5 360.6 L169.5 360.3 L170.5 360 L171.5 359.8 L172.5 359.5 L173.5 359.3 L174.5 359 L175.5 358.8 L176.5 358.6 L177.5 358.4 L178.5 358.3 L179.5 358.1 L180.5 357.9 L181.5 357.8 L182.5 357.6 L183.5 357.5 L184.5 357.4 L185.5 357.2 L186.5 357.1 L187.5 357 L188.5 357 L189.5 356.9 L190.5 356.8 L191.5 356.7 L192.5 356.7 L193.5 356.6 L194.5 356.6 L195.5 356.6 L196.5 356.5 L197.5 356.5 L198.5 356.5 L199.5 356.5 L200.5 356.5 L201.5 356.5 L202.5 356.5 L203.5 356.5 L204.5 356.6 L205.5 356.6 L206.5 356.6 L207.5 356.6 L208.5 356.7 L209.4 356.7 L210.4 356.8 L211.4 356.8 L212.4 356.9 L213.4 356.9 L214.4 357 L215.4 357.1 L216.4 357.1 L217.4 357.2 L218.4 357.3 L219.4 357.3 L220.4 357.4 L221.4 357.5 L222.4 357.5 L223.4 357.6 L224.4 357.7 L225.4 357.7 L226.4 357.8 L227.4 357.8 L228.4 357.9 L229.4 358 L230.4 358" fill="none" stroke="#f03838" stroke-width="1.4" stroke-linejoin="round" stroke-linecap="round"/>
<path d="M56.8 379.7 L57.8 379.7 L58.8 379.7 L59.8 379.6 L60.8 379.6 L61.8 379.5 L62.8 379.5 L63.8 379.4 L64.8 379.4 L65.8 379.3 L66.8 379.3 L67.8 379.2 L68.8 379.2 L69.8 379.1 L70.8 379 L71.8 379 L72.8 378.9 L73.8 378.8 L74.8 378.7 L75.8 378.7 L76.8 378.6 L77.8 378.5 L78.7 378.5 L79.7 378.4 L80.7 378.3 L81.7 378.2 L82.7 378.2 L83.7 378.1 L84.7 378 L85.7 378 L86.7 377.9 L87.7 377.8 L88.7 377.8 L89.7 377.7 L90.7 377.7 L91.7 377.6 L92.7 377.6 L93.7 377.5 L94.7 377.5 L95.7 377.5 L96.7 377.4 L97.7 377.4 L98.7 377.4 L99.7 377.4 L100.7 377.4 L101.7 377.4 L102.7 377.3 L103.7 377.3 L104.7 377.3 L105.7 377.3 L106.7 377.3 L107.7 377.3 L108.7 377.3 L109.7 377.2 L110.7 377.2 L111.7 377.1 L112.7 377 L113.7 376.9 L114.7 376.8 L115.7 376.6 L116.7 376.4 L117.7 376.2 L118.7 376 L119.7 375.7 L120.7 375.4 L121.7 375.1 L122.6 374.8 L123.6 374.4 L124.6 374 L125.6 373.6 L126.6 373.1 L127.6 372.6 L128.6 372.2 L129.6 371.7 L130.6 371.2 L131.6 370.7 L132.6 370.1 L133.6 369.6 L134.6 369.1 L135.6 368.5 L136.6 368 L137.6 367.4 L138.6 366.9 L139.6 366.3 L140.6 365.8 L141.6 365.3 L142.6 364.8 L143.6 364.3 L144.6 363.8 L145.6 363.3 L146.6 362.8 L147.6 362.4 L148.6 361.9 L149.6 361.5 L150.6 361.1 L151.6 360.8 L152.6 360.4 L153.6 360.1 L154.6 359.7 L155.6 359.4 L156.6 359.2 L157.6 358.9 L158.6 358.6 L159.6 358.4 L160.6 358.2 L161.6 358 L162.6 357.8 L163.6 357.6 L164.6 357.4 L165.5 357.2 L166.5 357.1 L167.5 357 L168.5 356.8 L169.5 356.7 L170.5 356.6 L171.5 356.5 L172.5 356.4 L173.5 356.3 L174.5 356.3 L175.5 356.2 L176.5 356.2 L177.5 356.1 L178.5 356.1 L179.5 356 L180.5 356 L181.5 356 L182.5 355.9 L183.5 355.9 L184.5 355.9 L185.5 355.9 L186.5 355.9 L187.5 355.9 L188.5 355.8 L189.5 355.8 L190.5 355.8 L191.5 355.8 L192.5 355.8 L193.5 355.8 L194.5 355.8 L195.5 355.8 L196.5 355.8 L197.5 355.8 L198.5 355.9 L199.5 355.9 L200.5 355.9 L201.5 355.9 L202.5 355.9 L203.5 356 L204.5 356 L205.5 356 L206.5 356 L207.5 356.1 L208.5 356.1 L209.4 356.2 L210.4 356.2 L211.4 356.3 L212.4 356.3 L213.4 356.4 L214.4 356.4 L215.4 356.5 L216.4 356.6 L217.4 356.7 L218.4 356.7 L219.4 356.8 L220.4 356.9 L221.4 357 L222.4 357.1 L223.4 357.2 L224.4 357.3 L225.4 357.4 L226.4 357.5 L227.4 357.6 L228.4 357.8 L229.4 357.9 L230.4 358" fill="none" stroke="#20e8f0" stroke-width="1.4" stroke-linejoin="round" stroke-linecap="round"/>
<path d="M56.8 495.4 L57.8 495.3 L58.8 495.2 L59.8 495.1 L60.8 495.1 L61.8 495 L62.8 495 L63.8 494.9 L64.8 494.9 L65.8 494.8 L66.8 494.8 L67.8 494.8 L68.8 494.7 L69.8 494.7 L70.8 494.7 L71.8 494.6 L72.8 494.6 L73.8 494.6 L74.8 494.6 L75.8 494.6 L76.8 494.6 L77.8 494.5 L78.7 494.5 L79.7 494.5 L80.7 494.5 L81.7 494.5 L82.7 494.5 L83.7 494.5 L84.7 494.5 L85.7 494.5 L86.7 494.5 L87.7 494.5 L88.7 494.5 L89.7 494.5 L90.7 494.5 L91.7 494.5 L92.7 494.5 L93.7 494.5 L94.7 494.5 L95.7 494.5 L96.7 494.5 L97.7 494.5 L98.7 494.5 L99.7 494.5 L100.7 494.5 L101.7 494.5 L102.7 494.5 L103.7 494.5 L104.7 494.5 L105.7 494.5 L106.7 494.5 L107.7 494.5 L108.7 494.4 L109.7 494.4 L110.7 494.4 L111.7 494.4 L112.7 494.3 L113.7 494.3 L114.7 494.2 L115.7 494.2 L116.7 494.2 L117.7 494.1 L118.7 494 L119.7 494 L120.7 493.9 L121.7 493.9 L122.6 493.8 L123.6 493.7 L124.6 493.6 L125.6 493.5 L126.6 493.4 L127.6 493.3 L128.6 493.2 L129.6 493.1 L130.6 492.9 L131.6 492.8 L132.6 492.6 L133.6 492.5 L134.6 492.3 L135.6 492.1 L136.6 491.9 L137.6 491.6 L138.6 491.4 L139.6 491.1 L140.6 490.9 L141.6 490.6 L142.6 490.3 L143.6 489.9 L144.6 489.6 L145.6 489.2 L146.6 488.8 L147.6 488.4 L148.6 488 L149.6 487.5 L150.6 487 L151.6 486.5 L152.6 486 L153.6 485.5 L154.6 485 L155.6 484.4 L156.6 483.9 L157.6 483.4 L158.6 482.8 L159.6 482.3 L160.6 481.7 L161.6 481.2 L162.6 480.7 L163.6 480.2 L164.6 479.7 L165.5 479.2 L166.5 478.8 L167.5 478.4 L168.5 478 L169.5 477.6 L170.5 477.2 L171.5 476.9 L172.5 476.6 L173.5 476.3 L174.5 476 L175.5 475.8 L176.5 475.6 L177.5 475.3 L178.5 475.1 L179.5 475 L180.5 474.8 L181.5 474.7 L182.5 474.5 L183.5 474.4 L184.5 474.3 L185.5 474.2 L186.5 474.1 L187.5 474 L188.5 473.9 L189.5 473.9 L190.5 473.8 L191.5 473.8 L192.5 473.7 L193.5 473.7 L194.5 473.7 L195.5 473.6 L196.5 473.6 L197.5 473.6 L198.5 473.6 L199.5 473.6 L200.5 473.6 L201.5 473.7 L202.5 473.7 L203.5 473.7 L204.5 473.7 L205.5 473.8 L206.5 473.8 L207.5 473.8 L208.5 473.9 L209.4 473.9 L210.4 474 L211.4 474 L212.4 474.1 L213.4 474.1 L214.4 474.2 L215.4 474.2 L216.4 474.3 L217.4 474.4 L218.4 474.4 L219.4 474.5 L220.4 474.5 L221.4 474.6 L222.4 474.7 L223.4 474.7 L224.4 474.8 L225.4 474.8 L226.4 474.9 L227.4 474.9 L228.4 475 L229.4 475 L230.4 475.1" fill="none" stroke="#f03838" stroke-width="1.4" stroke-linejoin="round" stroke-linecap="round"/>
<path d="M56.8 496.2 L57.8 496.2 L58.8 496.2 L59.8 496.1 L60.8 496.1 L61.8 496.1 L62.8 496 L63.8 496 L64.8 495.9 L65.8 495.9 L66.8 495.9 L67.8 495.8 L68.8 495.8 L69.8 495.8 L70.8 495.7 L71.8 495.7 L72.8 495.6 L73.8 495.6 L74.8 495.6 L75.8 495.5 L76.8 495.5 L77.8 495.5 L78.7 495.4 L79.7 495.4 L80.7 495.4 L81.7 495.4 L82.7 495.3 L83.7 495.3 L84.7 495.3 L85.7 495.3 L86.7 495.2 L87.7 495.2 L88.7 495.2 L89.7 495.2 L90.7 495.2 L91.7 495.2 L92.7 495.2 L93.7 495.2 L94.7 495.2 L95.7 495.2 L96.7 495.2 L97.7 495.2 L98.7 495.2 L99.7 495.2 L100.7 495.2 L101.7 495.2 L102.7 495.3 L103.7 495.3 L104.7 495.3 L105.7 495.3 L106.7 495.3 L107.7 495.3 L108.7 495.3 L109.7 495.3 L110.7 495.2 L111.7 495.2 L112.7 495.1 L113.7 495 L114.7 494.9 L115.7 494.8 L116.7 494.6 L117.7 494.4 L118.7 494.2 L119.7 494 L120.7 493.7 L121.7 493.4 L122.6 493.1 L123.6 492.7 L124.6 492.4 L125.6 492 L126.6 491.6 L127.6 491.1 L128.6 490.7 L129.6 490.2 L130.6 489.7 L131.6 489.2 L132.6 488.7 L133.6 488.2 L134.6 487.7 L135.6 487.1 L136.6 486.6 L137.6 486 L138.6 485.5 L139.6 485 L140.6 484.4 L141.6 483.9 L142.6 483.3 L143.6 482.8 L144.6 482.3 L145.6 481.8 L146.6 481.3 L147.6 480.8 L148.6 480.3 L149.6 479.8 L150.6 479.4 L151.6 478.9 L152.6 478.5 L153.6 478.1 L154.6 477.8 L155.6 477.4 L156.6 477 L157.6 476.7 L158.6 476.4 L159.6 476.1 L160.6 475.8 L161.6 475.5 L162.6 475.3 L163.6 475 L164.6 474.8 L165.5 474.6 L166.5 474.4 L167.5 474.2 L168.5 474 L169.5 473.8 L170.5 473.7 L171.5 473.5 L172.5 473.4 L173.5 473.3 L174.5 473.1 L175.5 473 L176.5 472.9 L177.5 472.8 L178.5 472.8 L179.5 472.7 L180.5 472.6 L181.5 472.6 L182.5 472.5 L183.5 472.5 L184.5 472.5 L185.5 472.5 L186.5 472.4 L187.5 472.4 L188.5 472.4 L189.5 472.4 L190.5 472.4 L191.5 472.5 L192.5 472.5 L193.5 472.5 L194.5 472.5 L195.5 472.6 L196.5 472.6 L197.5 472.6 L198.5 472.7 L199.5 472.7 L200.5 472.8 L201.5 472.8 L202.5 472.9 L203.5 473 L204.5 473 L205.5 473.1 L206.5 473.1 L207.5 473.2 L208.5 473.3 L209.4 473.4 L210.4 473.4 L211.4 473.5 L212.4 473.6 L213.4 473.7 L214.4 473.7 L215.4 473.8 L216.4 473.9 L217.4 474 L218.4 474 L219.4 474.1 L220.4 474.2 L221.4 474.2 L222.4 474.3 L223.4 474.4 L224.4 474.4 L225.4 474.5 L226.4 474.6 L227.4 474.6 L228.4 474.7 L229.4 474.7 L230.4 474.8" fill="none" stroke="#20e8f0" stroke-width="1.4" stroke-linejoin="round" stroke-linecap="round"/>
<rect x="171.2" y="244.5" width="66.6" height="34.1" fill="#fff" stroke="#333" stroke-width="1"/>
<line x1="175.1" y1="254.1" x2="190.9" y2="254.1" stroke="#f03838" stroke-width="1.4"/>
<line x1="175.1" y1="270" x2="190.9" y2="270" stroke="#20e8f0" stroke-width="1.4"/>
<text x="192.5" y="258.6" font-size="13" text-anchor="start" font-weight="normal" fill="#111" stroke="#111" stroke-width="0.3">heating</text>
<text x="192.5" y="274.4" font-size="13" text-anchor="start" font-weight="normal" fill="#111" stroke="#111" stroke-width="0.3">cooling</text>
</g>
<g font-family="'Liberation Sans', Arial, Helvetica, sans-serif">
<text x="294.6" y="246.6" font-size="18.4" text-anchor="middle" font-weight="bold" fill="#111">(c)</text>
<rect x="313.5" y="240.6" width="191.3" height="141.7" fill="none" stroke="#606060" stroke-width="1.2"/>
<rect x="313.5" y="382.3" width="191.3" height="143" fill="none" stroke="#606060" stroke-width="1.2"/>
<line x1="345.4" y1="382.3" x2="345.4" y2="380.1" stroke="#555" stroke-width="1.0"/>
<line x1="345.4" y1="240.6" x2="345.4" y2="242.8" stroke="#555" stroke-width="1.0"/>
<line x1="377.3" y1="382.3" x2="377.3" y2="380.1" stroke="#555" stroke-width="1.0"/>
<line x1="377.3" y1="240.6" x2="377.3" y2="242.8" stroke="#555" stroke-width="1.0"/>
<line x1="409.1" y1="382.3" x2="409.1" y2="380.1" stroke="#555" stroke-width="1.0"/>
<line x1="409.1" y1="240.6" x2="409.1" y2="242.8" stroke="#555" stroke-width="1.0"/>
<line x1="441" y1="382.3" x2="441" y2="380.1" stroke="#555" stroke-width="1.0"/>
<line x1="441" y1="240.6" x2="441" y2="242.8" stroke="#555" stroke-width="1.0"/>
<line x1="472.9" y1="382.3" x2="472.9" y2="380.1" stroke="#555" stroke-width="1.0"/>
<line x1="472.9" y1="240.6" x2="472.9" y2="242.8" stroke="#555" stroke-width="1.0"/>
<line x1="345.4" y1="525.3" x2="345.4" y2="523.1" stroke="#555" stroke-width="1.0"/>
<line x1="345.4" y1="382.3" x2="345.4" y2="384.5" stroke="#555" stroke-width="1.0"/>
<line x1="377.3" y1="525.3" x2="377.3" y2="523.1" stroke="#555" stroke-width="1.0"/>
<line x1="377.3" y1="382.3" x2="377.3" y2="384.5" stroke="#555" stroke-width="1.0"/>
<line x1="409.1" y1="525.3" x2="409.1" y2="523.1" stroke="#555" stroke-width="1.0"/>
<line x1="409.1" y1="382.3" x2="409.1" y2="384.5" stroke="#555" stroke-width="1.0"/>
<line x1="441" y1="525.3" x2="441" y2="523.1" stroke="#555" stroke-width="1.0"/>
<line x1="441" y1="382.3" x2="441" y2="384.5" stroke="#555" stroke-width="1.0"/>
<line x1="472.9" y1="525.3" x2="472.9" y2="523.1" stroke="#555" stroke-width="1.0"/>
<line x1="472.9" y1="382.3" x2="472.9" y2="384.5" stroke="#555" stroke-width="1.0"/>
<line x1="313.5" y1="256.3" x2="315.7" y2="256.3" stroke="#555" stroke-width="1.0"/>
<line x1="504.8" y1="256.3" x2="502.6" y2="256.3" stroke="#555" stroke-width="1.0"/>
<line x1="313.5" y1="272.1" x2="315.7" y2="272.1" stroke="#555" stroke-width="1.0"/>
<line x1="504.8" y1="272.1" x2="502.6" y2="272.1" stroke="#555" stroke-width="1.0"/>
<line x1="313.5" y1="287.8" x2="315.7" y2="287.8" stroke="#555" stroke-width="1.0"/>
<line x1="504.8" y1="287.8" x2="502.6" y2="287.8" stroke="#555" stroke-width="1.0"/>
<line x1="313.5" y1="303.6" x2="315.7" y2="303.6" stroke="#555" stroke-width="1.0"/>
<line x1="504.8" y1="303.6" x2="502.6" y2="303.6" stroke="#555" stroke-width="1.0"/>
<line x1="313.5" y1="319.3" x2="315.7" y2="319.3" stroke="#555" stroke-width="1.0"/>
<line x1="504.8" y1="319.3" x2="502.6" y2="319.3" stroke="#555" stroke-width="1.0"/>
<line x1="313.5" y1="335.1" x2="315.7" y2="335.1" stroke="#555" stroke-width="1.0"/>
<line x1="504.8" y1="335.1" x2="502.6" y2="335.1" stroke="#555" stroke-width="1.0"/>
<line x1="313.5" y1="350.8" x2="315.7" y2="350.8" stroke="#555" stroke-width="1.0"/>
<line x1="504.8" y1="350.8" x2="502.6" y2="350.8" stroke="#555" stroke-width="1.0"/>
<line x1="313.5" y1="366.6" x2="315.7" y2="366.6" stroke="#555" stroke-width="1.0"/>
<line x1="504.8" y1="366.6" x2="502.6" y2="366.6" stroke="#555" stroke-width="1.0"/>
<line x1="313.5" y1="418.1" x2="315.7" y2="418.1" stroke="#555" stroke-width="1.0"/>
<line x1="504.8" y1="418.1" x2="502.6" y2="418.1" stroke="#555" stroke-width="1.0"/>
<line x1="313.5" y1="453.8" x2="315.7" y2="453.8" stroke="#555" stroke-width="1.0"/>
<line x1="504.8" y1="453.8" x2="502.6" y2="453.8" stroke="#555" stroke-width="1.0"/>
<line x1="313.5" y1="489.5" x2="315.7" y2="489.5" stroke="#555" stroke-width="1.0"/>
<line x1="504.8" y1="489.5" x2="502.6" y2="489.5" stroke="#555" stroke-width="1.0"/>
<text x="312.4" y="535" font-size="9" text-anchor="middle" font-weight="normal" fill="#111" stroke="#111" stroke-width="0.12">-1500</text>
<text x="344.3" y="535" font-size="9" text-anchor="middle" font-weight="normal" fill="#111" stroke="#111" stroke-width="0.12">-1000</text>
<text x="376.2" y="535" font-size="9" text-anchor="middle" font-weight="normal" fill="#111" stroke="#111" stroke-width="0.12">-500</text>
<text x="408" y="535" font-size="9" text-anchor="middle" font-weight="normal" fill="#111" stroke="#111" stroke-width="0.12">0</text>
<text x="439.9" y="535" font-size="9" text-anchor="middle" font-weight="normal" fill="#111" stroke="#111" stroke-width="0.12">500</text>
<text x="471.8" y="535" font-size="9" text-anchor="middle" font-weight="normal" fill="#111" stroke="#111" stroke-width="0.12">1000</text>
<text x="503.7" y="535" font-size="9" text-anchor="middle" font-weight="normal" fill="#111" stroke="#111" stroke-width="0.12">1500</text>
<text x="409.2" y="544.3" font-size="9" text-anchor="middle" font-weight="normal" fill="#111" stroke="#111" stroke-width="0.12">H [Oe]</text>
<text x="349.8" y="251.4" font-size="9" text-anchor="middle" font-weight="normal" fill="#111" stroke="#111" stroke-width="0.12">Ellipticity</text>
<text x="349" y="397.1" font-size="9" text-anchor="middle" font-weight="normal" fill="#111" stroke="#111" stroke-width="0.12">Rotation</text>
<text x="309.3" y="310.8" font-size="9" text-anchor="middle" font-weight="normal" fill="#111" stroke="#111" stroke-width="0.12" transform="rotate(-90 309.3 310.8)">&#949; [0.1 mrad/div]</text>
<text x="309" y="454" font-size="9" text-anchor="middle" font-weight="normal" fill="#111" stroke="#111" stroke-width="0.12" transform="rotate(-90 309 454)">&#952; [0.1 mrad/div]</text>
<path d="M316.9 350.8 L318.9 350.8 L320.7 350.8 L322.5 351.8 L324.7 351.7 L326.4 351.5 L328.6 352.4 L330.3 352.4 L332.2 353.3 L334.8 353.1 L337.3 353 L339.6 353.3 L342.1 353.3 L344.3 353 L346.7 352.3 L349.3 352.7 L351.7 351.9 L354.1 351.7 L356.3 351.9 L358.9 351.8 L361.3 352 L363.8 352.5 L366.1 353 L368.5 353.5 L371 353.8 L372 353.5 L373.3 353 L374.5 352 L375.6 351.8 L377 350.9 L378.3 350.8 L379.5 351.2 L380.5 351.2 L382.1 351.7 L383.9 351.3 L385.5 351.4 L387.5 351.8 L388.9 351.7 L390.7 352.8 L392.4 353 L394.1 353.7 L395.3 353.5 L396.3 353.9 L397.8 353.7 L398.8 353.1 L400.2 353.2 L401.3 353.5 L402.5 353.4 L403.6 354.2 L404.7 353.4 L405.9 352.9 L407.2 352.9 L408.1 353.5 L409.4 353.4 L410.8 353.7 L411.6 353.6 L412.9 353.2 L414.5 353.5 L416.2 353.3 L417.8 354.2 L419.3 354.4 L421.3 354.9 L422.7 355.3 L424.6 355.2 L426 356.1 L428 356.6 L429.9 357.1 L432.1 357.4 L434 357.9 L435.9 358.6 L438.1 359.4 L440.2 359.8 L442.2 359.9 L443.3 359.9 L444.5 360.3 L445.9 360.8 L447.2 361 L448.7 362.4 L450 363.1 L451.3 363.6 L452.5 364.5 L455.3 364.8 L458.4 365.7 L461.3 365.6 L464.3 366.4 L467.4 366.9 L470.4 367.8 L473.1 368.5 L476 368.1 L479 367.9 L482.2 367.9 L485 368.3 L488 368.7 L491 368.9 L494.2 368.8 L497 369.8 L499.8 370.2 L500 370" fill="none" stroke="#222" stroke-width="1.0" stroke-linejoin="round" stroke-linecap="round"/>
<path d="M316.9 350.8 L318.7 350.9 L320.7 351.7 L322.8 352 L324.8 352.1 L326.5 352.6 L328.5 353 L330.6 353 L332.5 353.2 L333.3 353.8 L334.7 353.5 L335.8 354 L337.1 354.1 L338.5 354.5 L339.5 354.7 L340.8 354.9 L342 355.1 L343.4 355.5 L344.5 355.8 L345.6 356 L347 355.4 L347.8 355.6 L349.2 355.7 L350.6 355.6 L351.7 355.5 L352.7 356.3 L354 356.8 L355.3 357 L356.6 357.9 L357.8 358.9 L359 359.9 L360.1 360.2 L361.4 360.5 L362.6 361.3 L363.5 361.9 L364.8 362 L366.1 362.4 L367.4 362.8 L368.6 362.9 L369.6 363.5 L370.7 364.6 L372.1 364.5 L373.5 364.8 L374.7 365 L375.7 364.8 L377 364.7 L378.3 365 L379.4 365 L380.4 366 L381.9 366.4 L383 366.8 L384.4 366.9 L385.5 366.7 L386.7 367.2 L387.6 367.4 L388.9 367.9 L390.4 368.4 L391.4 368.7 L392.6 369.1 L393.9 368.8 L395.1 369.1 L396.2 369.3 L397.4 369.7 L398.5 369.9 L400 369.5 L401.5 369.3 L403.3 369 L404.7 369.2 L406.6 369.2 L407.9 369.8 L409.6 370.5 L411.4 370.3 L412.9 370.6 L417.5 370.9 L422.4 371 L426.7 371 L431.5 371.1 L436.2 371.2 L440.8 370.7 L445.5 371 L450 371.2 L456.1 371.4 L462.5 371.7 L468.6 371.6 L475 371.4 L481.4 370.9 L487.5 371.3 L493.9 370.7 L500 370.4 L500 371" fill="none" stroke="#222" stroke-width="1.0" stroke-linejoin="round" stroke-linecap="round"/>
<path d="M317.4 265.9 L319.1 265.5 L320.7 265.3 L322.3 265 L323.9 264.4 L325.2 264.3 L326.9 264 L328.4 263.4 L329.8 262.9 L331.5 262.6 L333.3 262.4 L334.9 262.3 L336.5 262.7 L338.1 262.9 L339.8 262.6 L341.2 262.1 L343 261.7 L344.6 261.2 L346.6 261 L348.3 261.6 L349.8 261.6 L351.6 261.2 L353 261.8 L354.4 261.8 L355.9 261.9 L357.6 261.9 L359.4 261.8 L361.2 261.5 L362.7 261.5 L364.5 262 L365.8 262.1 L367.5 262.4 L369 261.7 L370.5 262 L372 262.3 L373.3 262.2 L374.9 262.1 L376.1 262.1 L376.8 261.7 L378 261.1 L379.1 260.8 L380 261.2 L380.9 261.5 L381.8 261.5 L383.1 261.5 L384.3 261.6 L385.4 262.8 L387.4 262.2 L388.6 262.2 L389.9 261.9 L391.3 261.5 L392.3 261.2 L393.6 260.5 L394.8 260.2 L396.1 259.1 L397.6 258.7 L399.3 259.4 L401.2 259.2 L402.8 259.3 L404.3 259.9 L406 260.3 L407.6 260.9 L409.3 260.6 L410.4 260.8 L411.2 260.6 L412.1 261.5 L413.4 261.9 L414.2 262.1 L415.3 262.4 L416.5 262.5 L417.3 262.3 L418.3 262.9 L419.5 263.6 L420.2 265.3 L421.5 266.4 L421.6 268 L422.1 269.1 L422.5 270.2 L422.8 271.9 L422.8 272.4 L423.3 273.8 L423.5 274.7 L424 276.4 L424 277.6 L424.3 279.9 L424.7 281.3 L424.5 283.1 L424.9 285 L425.2 287.2 L425.3 288.5 L425.5 291.1 L425.9 293.5 L426 295.7 L426.3 297 L426.3 298.8 L426.6 301 L426.8 303.4 L427.1 305.9 L427.1 307.9 L427.4 309.8 L427.5 312 L427.9 314.1 L428.2 315.5 L428.2 317.5 L428.4 319.3 L428.8 321.8 L428.8 323.7 L428.9 325.7 L429.2 328.2 L429.3 329.5 L429.7 331.4 L429.7 333.2 L429.9 336 L430 338.5 L430.3 339.9 L430.6 341.7 L431 343.4 L431 346 L431.3 348.3 L431.4 350.4 L431.6 351.4 L431.8 352.7 L432 355.3 L432.4 356.5 L432.5 357.8 L432.6 358.7 L433.1 360 L433.2 360.7 L433.3 362.2 L433.8 362.8 L434 364.3 L435.1 365.5 L436.7 366.7 L438 367.3 L439.2 368.3 L440.8 368.9 L441.8 368.4 L443.5 368.9 L444.6 369.2 L446.1 369.6 L447.2 369 L448.7 369.1 L450 369.4 L452.4 369 L455 368.6 L457.5 368.6 L459.9 368.9 L462.4 369.4 L465 369.3 L467.7 369.5 L469.8 369.7 L473.8 369.9 L477.3 369.8 L481.1 369 L484.9 368.7 L488.8 369.2 L492.4 369.1 L496.1 369.1 L500 368.9 L500 369.3" fill="none" stroke="#ff1a1a" stroke-width="1.0" stroke-linejoin="round" stroke-linecap="round"/>
<path d="M317.4 265.9 L319 266.3 L320.7 266.1 L322.2 265.8 L323.8 265.7 L325.2 264.8 L326.9 265.3 L328.5 264.7 L329.9 264.1 L331.5 264.2 L333.2 263.9 L334.7 264.4 L336.6 264.7 L338 264 L339.8 263.6 L341.3 263.7 L343.1 263.6 L344.7 264 L346.4 264.2 L348.4 263.8 L349.9 263.3 L351.6 262.5 L352.8 262.8 L354.5 262.5 L355.9 262 L357.6 262 L359.3 262.7 L361.2 262.7 L362.8 262.8 L364.5 262.7 L365.7 262.1 L367.5 261.9 L368.9 261.9 L370.3 261.5 L371.9 261.9 L373.4 261.9 L374.9 261.7 L376 262.2 L376.9 262 L378 262.3 L378.9 261.6 L379.9 262.1 L380.9 261.8 L381.9 262.1 L383.1 261.9 L383.3 262.8 L383.7 263.4 L383.9 264.2 L384.4 265.9 L384.5 267 L384.9 267.4 L385 269 L385.4 269.3 L385.8 272 L386 275.1 L386.3 277.7 L386.7 280.5 L386.9 283.3 L387.1 286.2 L387.6 288.3 L387.9 290.4 L388 293 L388.3 295.4 L388.3 298.5 L388.9 301.7 L388.9 304.3 L389.2 307.3 L389.3 310 L389.5 312.5 L389.8 313.7 L389.7 315.9 L390.3 318.1 L390.5 319.7 L390.6 321.1 L390.7 323.4 L390.9 324.9 L391.1 326.9 L391.4 328.5 L391.6 329.8 L391.9 331.1 L391.9 333.3 L392.2 334.6 L392.5 336.4 L392.6 338.5 L392.8 340 L392.9 341.9 L393 343.7 L393.1 345.7 L393.3 346.9 L393.3 348.6 L393.6 350.6 L393.6 352.3 L393.8 354.4 L394.2 355.9 L394.3 356.4 L394.5 357.6 L394.9 358.7 L395.2 360.4 L395.4 361.1 L395.7 362.9 L395.9 363.8 L397.4 365 L398.7 365.5 L400.4 366.2 L401.7 366.9 L403.3 367.3 L404.4 368.3 L405.9 368.2 L407.4 368.3 L408.8 369.4 L410.2 369.9 L411.6 370.6 L412.9 370.8 L417.5 370.4 L422.3 370.3 L426.9 369.8 L431.4 370.1 L436 370.6 L440.9 370.2 L445.4 370.7 L449.9 370 L456.2 369.9 L462.4 369.8 L468.6 370.3 L475 370.5 L481.4 370.8 L487.5 370.9 L493.6 370.9 L499.9 370.2 L500 369.8" fill="none" stroke="#ff1a1a" stroke-width="1.0" stroke-linejoin="round" stroke-linecap="round"/>
<path d="M317.4 325.2 L320.2 325 L323.2 325 L325.9 324.9 L328.7 325.1 L331.7 325.6 L334.2 325.6 L337.2 325.9 L340 325.7 L343.3 325.6 L346.1 325.3 L349.3 326 L352.5 325.6 L355.6 326.2 L358.7 325.6 L361.7 325.5 L365.1 326.3 L367 325.7 L369.2 326.3 L371.2 326 L373.1 326.4 L375.1 326.2 L377.2 325.8 L379.3 325.4 L381.5 325.2 L382.2 324.9 L383.6 325.2 L384.4 325.2 L385.5 324.6 L386.3 323.8 L387.4 323.8 L388.4 323.6 L389.5 324 L391.5 323.7 L393.7 323.4 L395.8 323.8 L397.7 324.3 L399.7 323.9 L401.8 323.3 L404 323.4 L405.8 323.6 L407.9 323.8 L410.1 324.4 L412.1 324.6 L414 324.6 L416.2 325.1 L418.4 325.2 L420.3 325.7 L422.5 325.2 L423.2 325.4 L424.2 325.7 L425.4 326.9 L426.2 327.2 L427.3 328.3 L428.5 328.6 L429.2 329.1 L430.5 329.9 L431.1 330.7 L431.8 331.8 L432.2 333.3 L432.7 334.6 L433.5 335.5 L434 337 L434.7 338 L435.1 340 L435.8 341.9 L435.9 343.3 L436.2 345.1 L436.5 346.2 L437 348.6 L437.2 350.7 L437.6 352.4 L438.1 353.7 L438.7 355.9 L438.9 357.6 L439.6 359.1 L440 360.2 L440.6 361.5 L441.1 363.6 L441.3 364.8 L442 366.2 L443.1 366.3 L444 367.4 L445.1 368 L445.9 368.5 L447 369.4 L447.9 369.9 L448.8 369.9 L450 370.4 L453 370.5 L456.3 370.3 L459.3 370.5 L462.5 370.3 L465.5 370.7 L468.6 370.9 L471.8 371.1 L475.1 371.3 L478.1 372.1 L481.1 371.6 L484.5 371.6 L487.4 372.3 L490.8 371.8 L493.7 372.2 L496.9 372.4 L500.1 371.9 L500 372.2" fill="none" stroke="#1a1aff" stroke-width="1.0" stroke-linejoin="round" stroke-linecap="round"/>
<path d="M317.4 325.2 L320.1 325.4 L323.2 325.6 L325.8 325.7 L328.8 325.3 L331.6 325.7 L334.3 325.5 L337.3 325.2 L340 325 L343.2 325.4 L346.2 325 L349.4 325.7 L352.3 326.3 L355.6 326.1 L358.6 326.7 L361.8 327.1 L365.1 326.9 L366.2 326.9 L367 327.2 L368.1 327.5 L369 328.6 L370.1 329 L371 329.2 L372.1 329.9 L373.2 330.2 L373.9 330.6 L374.3 332 L375.1 333.1 L375.6 333.5 L376.2 333.8 L376.9 334.7 L377.5 335.7 L378 336.1 L378.7 337.7 L379.2 338.6 L379.9 340.6 L380.1 341.8 L380.6 342.5 L381 344.3 L381.4 345.1 L381.6 346.4 L382.2 348.2 L382.5 349.6 L382.9 350.9 L383.2 352.2 L383.6 354.1 L383.9 355.4 L384.4 356 L384.6 357.6 L384.9 358.7 L385.3 360.2 L385.6 361 L385.9 362.9 L386.5 364.1 L387.5 365.1 L388.5 366.7 L389.2 367.8 L390.1 369.3 L391.6 369.8 L393.2 370.4 L394.4 370.8 L396 371.8 L397.5 370.9 L399 371.1 L400.3 371.3 L401.8 371.3 L403.4 371.6 L404.6 371.5 L406.1 371.7 L407.2 371.6 L408.9 371.4 L410.2 370.9 L411.7 371.7 L412.9 371.5 L417.7 371.7 L422.3 371.5 L426.9 372.2 L431.3 372.2 L436 372 L440.8 372.6 L445.4 372.5 L450.1 371.8 L456.1 372.2 L462.6 372.7 L468.6 373.1 L475.1 373.3 L481.1 372.6 L487.3 372.8 L493.9 372.7 L499.9 372.6 L500 372.5" fill="none" stroke="#1a1aff" stroke-width="1.0" stroke-linejoin="round" stroke-linecap="round"/>
<path d="M317.4 277.7 L321.5 278 L325.6 277.7 L329.6 278 L333.7 277.2 L337.8 276.5 L341.7 277.1 L345.8 277.2 L350 277.3 L354.6 276.7 L359.6 276 L364.3 275.6 L368.9 275.7 L373.6 275.9 L378.3 276 L383.2 275.4 L387.8 274.9 L389.5 275.1 L391 274.7 L392.3 275.1 L393.8 275.3 L395.5 275.4 L396.9 275.3 L398.4 275.8 L400 275.6 L401.9 275 L403.6 274.8 L405.1 275 L407.1 274.9 L409 275.1 L410.7 274.7 L412.2 275.4 L413.9 275.4 L415.6 275.9 L417.1 276 L418.2 276.2 L419.9 276.7 L420.3 278 L421.1 279.8 L421.6 280.8 L422.4 282.6 L422.5 284.2 L422.3 286.7 L422.6 289 L422.6 290.5 L422.9 292.4 L422.9 294.3 L423 297.1 L423 299.3 L423.4 301.8 L423.2 304 L423.5 305.8 L423.4 307.2 L423.6 309.7 L423.7 312.1 L423.9 314.3 L423.8 315.6 L424 319.1 L424.4 322.5 L424.4 325.7 L424.9 327.8 L424.8 330.9 L425 334 L425.3 337.3 L425.5 340.4 L425.5 342.6 L425.8 344.5 L425.9 347 L426.1 349.3 L426 352.1 L426.3 354.7 L426.4 357.7 L426.6 359.9 L426.6 361.5 L426.8 363.1 L427 363.4 L427.4 364.8 L427.3 365.8 L427.6 366.8 L427.7 368.1 L428.1 369.5 L430.7 369.2 L433.4 370 L436.3 369.3 L439 369.4 L441.8 369.3 L444.6 370 L447.1 369.9 L450.2 369.9 L456.3 370 L462.6 370 L468.6 370.5 L475.1 370.4 L481.3 370.1 L487.5 369.4 L493.6 369 L500.2 369.3 L500 369.5" fill="none" stroke="#ffc21a" stroke-width="1.0" stroke-linejoin="round" stroke-linecap="round"/>
<path d="M317.4 277.7 L321.3 277.3 L325.7 277.3 L329.8 276.9 L333.8 277.1 L337.9 276.4 L341.9 276.5 L346.1 276.3 L350.1 276.5 L354.8 276.6 L359.5 276.7 L364.1 276.5 L368.8 276.2 L373.7 276.1 L378.5 276.2 L383.2 275.7 L388.1 275.1 L388.7 276.5 L389.5 276.8 L390.4 277.9 L391 279.2 L391.4 281.3 L391.6 283.3 L391.7 286.1 L391.9 289.3 L392.2 291.5 L392.4 293.8 L392.4 296 L392.7 299 L392.9 301.7 L393 304.8 L393.4 308.3 L393.3 311.9 L393.7 314.5 L393.7 318 L393.8 321.3 L393.9 324.1 L394.2 325.5 L394.3 327.6 L394.2 330.2 L394.2 332.1 L394.3 333.6 L394.3 336.1 L394.2 338.5 L394.6 339.8 L394.3 342.1 L394.6 345.2 L394.8 348.1 L394.7 349.9 L394.7 352.7 L394.8 355.3 L394.9 357.5 L394.9 360.1 L395.3 361.6 L395.7 362.5 L396.3 363.8 L396.5 365.4 L396.7 366 L397.1 367.6 L397.6 368.4 L398.1 369.1 L399.5 370.8 L400.9 371.9 L402.1 373 L403.8 373.2 L405 373.7 L405.9 373.9 L407.2 373.2 L408.4 372.8 L409.6 372.9 L410.8 373.5 L411.8 373.6 L412.9 373.2 L417.8 372.6 L422.3 372.3 L426.9 371.9 L431.6 371.8 L436.2 371.5 L440.8 372.1 L445.4 372.1 L450 372.2 L456.1 372.4 L462.5 371.6 L468.6 371.2 L475.2 371.4 L481.2 370.9 L487.4 370.6 L493.8 370.9 L500.1 370.5 L500 371" fill="none" stroke="#ffc21a" stroke-width="1.0" stroke-linejoin="round" stroke-linecap="round"/>
<path d="M317.3 455.8 L317.6 454.7 L318.5 454.8 L319.4 453.4 L320.7 453.5 L321.4 452.8 L321.5 453.7 L322.3 452.2 L323.5 453.7 L324.7 454.9 L325.2 455 L325.6 453.4 L327.1 454.8 L328.1 456.4 L329.4 457.6 L330.1 459.4 L331.4 458.6 L333 459.2 L333.5 457.8 L334.8 456.9 L336.1 457.9 L337.1 458.5 L338.8 458.2 L340.8 458.3 L342.9 459.1 L343 459.3 L344.6 461.1 L345.1 461.1 L345.7 462.8 L347 462.1 L347.9 463.3 L349.2 463.8 L350.4 462.8 L351.9 461.5 L353.7 461.3 L355 461.7 L356.5 461.2 L358.1 461.5 L359.5 462.6 L360.8 462.7 L362.6 464 L363.5 464.4 L364.8 465.3 L366.1 465 L367.8 465.7 L369.7 465.9 L370.5 467 L371.9 467.2 L373.8 468.8 L375 470.4 L376.4 471.8 L378.1 473.1 L380 471.9 L380.8 473.9 L382.5 474.8 L383.9 473.8 L385.3 475.9 L387.1 476.6 L388.4 477.3 L389.6 478.3 L391.2 477.8 L392.3 476.5 L393.6 477.9 L394.4 477.1 L395.4 477.8 L397.2 477.5 L397.8 477.2 L399 476.8 L400.1 476.1 L401 477.2 L401.9 478.5 L402.4 478.4 L403.2 478.5 L405.1 478.3 L406 479.5 L407.8 480.1 L409.3 480.1 L410.3 480.1 L411.8 481.3 L413 482.8 L414.4 482.5 L415.4 484.1 L416.1 483.1 L417.6 482.6 L418 483.5 L419.4 486.1 L421.6 485.4 L423 486.5 L423.7 488 L425.7 488.9 L427.1 488.4 L428.7 489.2 L430.7 490 L432.2 491.2 L434.2 490.9 L435.8 491.4 L437.1 491.5 L439.1 493.6 L441.2 495.1 L442.8 495.6 L444.2 496.2 L446.4 498.3 L448.2 499.9 L449.5 500.5 L451.6 501.3 L453.1 501.1 L454.8 501 L456.9 502.7 L458.8 502.5 L460.9 505.2 L462.3 504.8 L464 506.6 L465.7 507.4 L467.4 508.2 L469.5 508.7 L472.2 511.4 L474 512 L476.3 512.4 L478.9 514.3 L482 515.4 L484.3 517.1 L486.8 518.5 L489.3 519.9 L491.3 519.3 L493.8 521.5 L497 521.9 L499.3 523.4 L499.1 521.8" fill="none" stroke="#222" stroke-width="0.95" stroke-linejoin="round" stroke-linecap="round"/>
<path d="M317.3 456.5 L318.3 454.3 L319.2 455.5 L320.4 454.4 L321.4 455.7 L323 456.3 L324 454.8 L325.6 455.4 L326.9 457.6 L329.3 456.2 L330.3 456.7 L332 457 L333.5 459.2 L335.6 458.3 L337.7 458.9 L338.9 460.2 L341.1 459.2 L342.1 461.1 L344.6 461.6 L345.2 462.2 L346.8 463.3 L347.9 462.4 L348.5 462.2 L349.9 462.8 L351.3 463.6 L353.3 465.3 L355.1 466.8 L356.2 467.2 L358.2 465.8 L360 466.2 L361.3 465.1 L363.7 467.2 L365.3 467.9 L368.1 467.6 L370.2 468.3 L371.7 467.6 L373.8 469.1 L375.3 470.3 L376.3 469.2 L377.8 471.4 L379.5 470.6 L381.4 471.9 L382.5 472.2 L384.4 474 L386.8 474.3 L388.3 475.6 L390.5 475.3 L393.1 477.3 L395.2 479.7 L397 479.4 L398.4 481.9 L400.2 480.9 L401.8 481.5 L403.5 481.6 L405.2 484.5 L407.1 486.7 L409.4 487.4 L410.6 488.9 L412.8 490.9 L414.8 493 L416.2 494.7 L417.2 495.2 L418.3 495.4 L419.1 493.6 L420.7 494.3 L421.7 495.1 L422.3 494.3 L424 495.2 L425.8 494.6 L427.7 494.3 L429.9 494.4 L431.2 494.9 L433.4 496.1 L434.5 497.4 L437.1 497.9 L438.2 497.4 L440.1 499 L442.3 499.1 L443.5 499.3 L445.4 499.2 L447.2 500.9 L448.8 502.4 L451 502 L452.7 502.8 L454.3 504.9 L455.8 504.5 L457.9 505.6 L459.4 506.7 L461.5 506.3 L463.2 508.8 L465.2 511.2 L467.1 511 L468.7 510.6 L470.4 512.4 L471.8 512.1 L473.7 512.9 L475.7 513 L478 515.3 L480.3 515.8 L481.9 515.8 L484.2 517.3 L486.2 517.2 L488.2 519.2 L489.8 520.1 L492.1 521.6 L494.2 520.8 L495.1 522 L497.3 521.3 L498.8 523.3 L499.1 521.8" fill="none" stroke="#222" stroke-width="0.95" stroke-linejoin="round" stroke-linecap="round"/>
<path d="M317.3 490.4 L317.9 489.5 L318.8 492.1 L319.1 493.3 L320.5 493.8 L321.4 494.4 L321.6 496.1 L323.4 494.2 L324.2 493.5 L326.4 494.9 L327.9 496.2 L328.6 495.1 L330.8 494.2 L331.5 494.6 L332.9 495 L334.6 495.7 L336 496.9 L337.4 500.3 L339.3 502.4 L340.6 503 L342 504.3 L343.2 503.8 L344.7 503.7 L346.2 506.2 L347.7 505.3 L349.1 507.1 L350.2 508.1 L352.2 507 L353.3 506.5 L354.7 507.5 L356 507.2 L358 509.9 L359.3 511.7 L361.1 513 L362.2 512.9 L363.4 512.7 L365.3 512.3 L366.9 511.6 L368.1 512.3 L369.6 513.7 L370.7 512.6 L371.9 511.7 L373.9 514.1 L375.5 515.9 L377.1 515.1 L378.1 516.7 L379.4 515.3 L380.9 514.9 L382.7 514.5 L384 517 L386 518 L388.1 517.8 L388.7 514.9 L389.6 511.2 L389.4 508.5 L390.8 508.1 L391.5 506.3 L391.7 503.4 L392.9 500 L392.7 498.7 L393.3 495.2 L393.4 493.4 L394 490.9 L394.4 487.4 L395.3 484.5 L395.7 483.5 L395.8 483.5 L395.9 480.7 L396.1 481.3 L396.1 478.4 L398.4 480 L399.3 478.7 L401 479.2 L403 477.9 L403.9 478.4 L405.6 476.8 L407.1 478.8 L409.3 478.3 L410.8 480.8 L412.8 481.3 L414.1 482 L415.9 481.9 L417.6 481.1 L419.5 481.1 L421.4 482.3 L423.6 483.4 L424.8 481.9 L426.9 481.8 L428.3 481.7 L430.7 481.7 L432 481.4 L433.8 482.7 L435.9 483.7 L437.5 481.3 L439.2 480.6 L440 481.2 L442 483.3 L443.2 483.6 L445 482.4 L446 482.4 L447.4 483.7 L449.2 483.4 L450.2 485 L452 487.4 L453.5 488.8 L454.1 488.9 L456.4 489.6 L458.2 491.9 L459.9 493.3 L461.6 494.8 L463.4 494.2 L464.7 495.1 L467.2 496.8 L468.8 497.2 L470.6 498.8 L472.3 500.9 L474 500.1 L475.6 500.8 L477.5 503 L480.3 504.8 L482.4 504.8 L484.1 507.3 L485.9 509.5 L488.8 509.6 L489.9 511.7 L491.9 512.2 L494.2 514.3 L495.7 515.2 L497.4 517.1 L498.8 520.4 L499.1 519.6" fill="none" stroke="#ff1a1a" stroke-width="0.95" stroke-linejoin="round" stroke-linecap="round"/>
<path d="M317.3 490.4 L318.6 490.5 L319.5 489.2 L320.7 490.1 L321.5 488.3 L322.4 488.4 L323.4 489.3 L325 488.7 L325.6 488.9 L326.9 488.2 L328.2 487 L329.2 488.4 L330.8 489.7 L332 489.4 L332.9 488 L334.6 489.7 L336.6 488.5 L337.3 489.3 L338.9 488.5 L339.8 487.8 L341.2 488 L342.3 487.7 L343.3 486.6 L345.1 488.2 L345.7 488.1 L346.5 487.5 L347.3 487.9 L348.3 488.2 L349.6 488.4 L350.3 489.6 L351.2 490.2 L352.2 492.1 L353.5 491.3 L355 491.9 L356.2 491.8 L357.1 491.6 L358 493 L359.5 495.6 L360.5 495.2 L361.2 496.7 L362.9 496.3 L363.9 498.2 L365.1 498.8 L366.9 498.9 L368 501.4 L369.4 500.3 L370.7 502.3 L372.1 501.7 L373.9 503.5 L375.4 503.4 L377.1 505 L378.1 506.4 L380 507.4 L381.3 508.4 L382.5 508.4 L383.5 508.4 L384 507.9 L384.9 505.5 L386 505.3 L386.6 503.9 L387.3 505.2 L388.8 506.7 L389.9 506.7 L389.9 507.3 L390.7 508.9 L391.4 510.2 L391.2 508.9 L392.3 508.2 L392.2 510.3 L392.8 509.9 L394 511.7 L395.1 513.1 L395.8 513.8 L395.9 512.1 L397.3 513.8 L397.8 513.4 L399.6 513.3 L401.3 513.8 L402.6 513.4 L404.2 513.6 L406.1 513.7 L408 514.1 L409.1 515.7 L410.3 517.1 L411.6 516.4 L413.3 516.7 L414.6 516.7 L415.8 518.5 L417.5 518.2 L419.3 517.4 L420.1 516.7 L421.8 515.7 L421.8 515.5 L423.1 517 L423.1 516.7 L423.1 515.6 L424 512.6 L424.3 511.1 L424.6 509.2 L424.6 506.6 L424.6 503.8 L425.2 503.1 L425.5 501.5 L426.5 499.4 L426.3 496.7 L427.3 494.3 L427.2 493 L427.2 490.2 L427.6 489 L427.9 485.9 L428.5 483.2 L428.7 481.8 L430.6 481.8 L431.5 480.7 L433.6 481.4 L434.7 482.9 L436.4 481.3 L437.9 483 L438.8 483.2 L440.6 483.7 L441.7 485.4 L443 485.2 L444.6 485.3 L446 484.8 L447.2 487 L448.7 486.6 L450.1 488.5 L452.1 489.9 L453.4 491.3 L454.5 490.3 L456 492.3 L458.4 493.3 L459.7 495.4 L461.1 494.7 L463.4 495.3 L465.4 496 L467 497.9 L468.5 499.9 L470.3 501 L471.8 501 L474.3 502.8 L475.9 502.1 L477.7 502.5 L480.3 504 L482.1 505.8 L483.9 507.2 L485.9 508.2 L488.4 508.7 L490.3 511.8 L492.4 512.9 L493.7 513.6 L495.2 515.3 L497.5 518.9 L498.8 519.1 L499.1 520" fill="none" stroke="#ff1a1a" stroke-width="0.95" stroke-linejoin="round" stroke-linecap="round"/>
<path d="M404 514.8 L405.6 516 L407 518 L408.4 517.9 L408.3 519 L409 519.3 L409.3 520.2 L410 522.5 L409.6 524.8 L410 524.5" fill="none" stroke="#ff1a1a" stroke-width="0.95" stroke-linejoin="round" stroke-linecap="round"/>
<path d="M317.3 405.4 L318.1 407 L318.3 408.5 L319.1 410.1 L319.9 410.6 L320 411.8 L321 411.1 L321.9 410 L322.9 408.3 L323.6 405.8 L324.1 405.6 L325.3 406.1 L326.7 404.9 L327.8 403.8 L329.5 402.7 L330.1 401.9 L331.9 402.6 L333 404.7 L333.8 407.7 L334.9 407.4 L336.2 406.9 L337.3 408.8 L338.8 409.4 L339.8 410.1 L340.4 409.7 L342.3 409.5 L343.3 409.7 L344.3 409.6 L345.7 409.6 L346.1 411.6 L347.3 412.6 L348.6 413.7 L350.4 411.9 L350.8 412.3 L352.7 412.1 L353.8 411 L354.6 410.8 L354.9 411.7 L355.9 412.5 L356.5 414 L357.1 413.9 L358 414.4 L358.4 414.5 L359.4 414.1 L360.5 414.8 L361.9 416.2 L363.1 415 L363.6 416.3 L365.4 417.2 L366.6 417.1 L367.4 416.6 L368.9 416.7 L369.5 417.1 L370.9 419.5 L372.3 419.6 L373.5 418.4 L374.4 419.3 L375.9 420.1 L377.1 418.5 L378.1 418.7 L379.4 419.3 L379.4 420.9 L380.1 420.4 L380.5 420.7 L381.3 422.2 L382.1 423 L382.4 423.1 L383.7 423.6 L384.9 425.2 L386 423.6 L387 423.7 L388 424.4 L389.3 425.6 L390.3 425.9 L391 425.5 L391.7 428.4 L393.2 428.7 L393.9 429.5 L395 431.5 L396.3 430.6 L398.4 428.6 L399.9 427.7 L401 427.7 L401.3 428.9 L402.1 430.1 L403.1 430.3 L404.2 431.9 L404.9 431.3 L406.5 432.1 L407.6 432.5 L408.2 432.2 L409.5 434.4 L410.6 433.8 L411.6 434.9 L413.5 435.6 L414 435.4 L414.9 436.3 L416.1 439 L417.3 438.6 L418.4 438.3 L419.8 439.1 L421.6 439.9 L422.8 441.9 L423.7 442.6 L425.5 443.6 L426.6 443.8 L427.2 447.9 L428.2 448.8 L428.5 450.4 L429 452.8 L429.6 453.4 L430.3 455.4 L430.8 459.2 L432.2 461.9 L432.5 462.1 L433.9 465.2 L434.2 465.7 L434.9 468.6 L435.7 469 L436.7 470.3 L437.2 471.3 L438.1 475.2 L438.7 476.6 L439.7 479.8 L440.3 480.5 L441.6 482.3 L442.5 484.4 L444.1 485.3 L445.3 486.5 L446.2 488.9 L447.8 487.8 L448.7 488.9 L449.8 489.3 L451.4 489.7 L453.3 490.5 L454.3 491.1 L455.9 493.2 L457.6 495.5 L459.5 496.4 L461.7 496.1 L463.3 497.8 L465 498.6 L466.4 498.8 L468.8 500.5 L470.4 501.3 L472.1 502.9 L474 503.4 L475.6 504.5 L477.6 507 L479.5 508.9 L480.7 509.9 L482.8 511.7 L484.2 513.1 L486.4 513.8 L488.6 515.6 L490.6 517.2 L492.9 519 L495.3 518.4 L496.7 518.9 L499.4 519.9 L499.1 520.7" fill="none" stroke="#1a1aff" stroke-width="0.95" stroke-linejoin="round" stroke-linecap="round"/>
<path d="M317.3 405.4 L318.7 407.1 L319.6 408.5 L319.9 409.4 L321.1 409.5 L322.3 410.1 L323.4 410.1 L324.9 410.4 L325.6 412.1 L327.3 412.8 L327.7 412.2 L329.5 412.4 L330.1 412.8 L331.4 413.8 L332.4 415.2 L333.7 415.4 L334.7 416.9 L336.1 417.7 L337 416.9 L338.6 417.3 L339.4 419.5 L339.7 419.9 L340.9 420.2 L342.1 420.1 L342.3 419.8 L343.1 419.1 L344 418.2 L345.5 418.4 L346.1 419 L346.5 418.6 L347.9 418.9 L349 418.1 L350.2 418.1 L350.9 418.7 L352.6 418.5 L353.2 419.7 L354.5 421.7 L355.4 421.1 L357.1 420.9 L358 422.7 L358.9 422.7 L360.3 423.3 L361.4 422.9 L362.6 424.7 L362.7 424.1 L363.6 423.9 L363.6 426.6 L364.3 427.9 L365.2 428.3 L366.4 428.6 L367.4 428.8 L368.5 429.4 L369.6 429.4 L371 429.6 L372 430.9 L372.7 433.4 L373.9 434.1 L374.9 435.1 L375.9 435.2 L376.1 436.4 L377.3 437.3 L378.4 439.5 L379.2 440.5 L379.9 441.7 L380.8 442.2 L381.6 441.5 L382.4 442.8 L383.2 444.5 L383.7 445.4 L384.7 446 L385 448.1 L385 450.1 L385.9 450 L386.5 451.5 L387.2 453.2 L387.9 455.5 L388.6 456.5 L389.2 458.8 L389.5 458.4 L390.6 458.9 L391.3 462 L392.4 462.5 L393.1 463.8 L393.5 464 L395 466.6 L395.2 466.6 L396.8 466.6 L397.5 466.6 L398.6 467.1 L399.4 467.7 L399.5 468.8 L400.8 469.1 L401.4 468.8 L403 470 L403.5 471.4 L404.6 470.7 L405.3 472.1 L407.8 474.6 L408.8 475 L410.6 476.4 L412.7 478.9 L414.8 479.5 L416.4 481.5 L417.9 480.5 L420.1 481 L421.2 481.3 L423.2 482.3 L425 483.8 L427.1 483.4 L428.8 486.3 L430 487.3 L432.3 487.2 L433.9 489.9 L435.4 491.9 L437.3 491.6 L439.1 492.6 L440.6 493.4 L443 494.2 L444.3 493.5 L446.3 494.1 L448.5 494.9 L450 495 L451.7 496.6 L453.6 497.3 L454.7 499.8 L456.5 500.3 L458.9 501.7 L460.9 502.1 L462.4 503.7 L463.8 502.9 L465.7 504.9 L467.1 504.6 L469.1 506.2 L471.8 506.3 L474.3 508.7 L477.1 508.6 L479.3 510.3 L481.6 511.5 L484.5 512.3 L486.8 513 L489.6 515.5 L491.8 515.2 L493.7 516.2 L496.5 517.9 L498.8 519 L499.1 519.6" fill="none" stroke="#1a1aff" stroke-width="0.95" stroke-linejoin="round" stroke-linecap="round"/>
<path d="M317.3 484.3 L318.7 483.6 L320.2 485.1 L321.4 485.1 L322.6 484.7 L324 483.8 L325 484.7 L326.8 484.8 L328.5 485.2 L329.8 487.1 L330.6 485.8 L332.2 485.6 L334.1 486.9 L335.7 486.7 L336.9 486.4 L338.8 485.9 L340.4 485.1 L342.9 485.2 L344.4 483.3 L345.3 483.4 L346.9 484.4 L348.1 487.1 L349.3 487.3 L350.6 489.1 L352.2 491.1 L353.7 490.7 L354.7 491.4 L356 492.4 L357.9 493 L359.4 492.4 L360.9 492.6 L361.8 493.9 L363.3 497 L365.1 496.6 L366.6 495.6 L368.1 495.4 L369.3 495.3 L371.1 494 L372.4 493.6 L373.4 494.6 L374.7 494.7 L375.8 494.5 L376.2 495.8 L377.7 496.3 L378.4 496.6 L379.4 499.2 L380 500.6 L381.7 501.1 L382.8 500.1 L383.4 501.5 L384.7 503.4 L385.8 501.9 L386.4 502.6 L387.7 503.4 L388.8 503.3 L389.9 504.3 L390.7 505.8 L391.5 507 L392 506 L393.6 505.2 L394.8 506.2 L395.5 505.4 L396.5 505 L397.7 503.2 L399.5 504.2 L399.7 504.4 L400.7 505.1 L402.5 506.3 L403.4 508.1 L404.8 507.5 L405.7 506.9 L405.3 508.6 L405.6 509.5 L406.2 511.9 L406.9 510.9 L407.1 511.6 L407.6 513.3 L409.4 513.8 L409.8 513.4 L410.6 513.8 L412.3 514.4 L413.3 515 L414 515.1 L415.1 515.3 L415.7 517 L416.8 515.2 L417.4 512.9 L418.6 512.8 L418.5 511.4 L418.7 509.2 L418.9 506.3 L419.8 505.4 L420 503.9 L420 500.9 L420.2 498.2 L420.2 496.2 L420.6 496.2 L420.8 493.3 L421.3 491 L421.5 489.1 L421.6 486.3 L421.7 483.4 L422.2 478.6 L421.9 476 L422.8 472.8 L422.6 469.9 L423.3 470.1 L424.7 470.2 L425.7 470.7 L427.2 469.6 L427.7 469.4 L429.4 469.9 L429.7 472.1 L431.1 472.1 L431.9 472.5 L433.5 473.4 L434.6 476.7 L434.9 478.5 L437 479.1 L438.1 479.4 L439.3 482.3 L441.1 483.3 L442.1 485.4 L443.4 487.7 L445.4 486.8 L447.3 486.6 L449.4 487.2 L451.2 489.1 L452.5 490.6 L454.8 491.1 L455.8 492.2 L457.2 493.2 L458.9 494 L460.5 492.2 L461.6 493.5 L463.3 495 L465.4 496.6 L466.9 497.8 L468.9 498.7 L471.2 499.6 L474 501.3 L475.8 501.4 L477.9 502.2 L478.9 504 L481 506 L482.7 507.4 L484.2 507.7 L486 509.8 L488.5 511.7 L490.3 514.9 L492.4 516.4 L495.3 517.8 L496.6 520.9 L499 524.4 L499.1 522.8" fill="none" stroke="#ffc21a" stroke-width="0.95" stroke-linejoin="round" stroke-linecap="round"/>
<path d="M317.3 490.4 L319.1 490 L320.7 488.3 L322.2 488 L323.6 487 L325.1 486.5 L326.9 487.5 L328.1 489.8 L329.3 489.4 L330 490.4 L331.1 491.4 L332.7 491.8 L334.2 493.4 L334.8 494.1 L336.5 494.4 L338.5 495.7 L339.8 494.6 L340.8 494.9 L342.4 495.7 L343.7 495.8 L345.6 496.5 L346.7 496.3 L348.5 496.5 L350 496.9 L351.5 496.6 L353 497.8 L354.4 499.8 L355.8 498.9 L357.3 500 L358.3 501 L360.3 502.7 L361 501.9 L362.9 502.3 L364.3 501.8 L366 502.8 L366.8 502.4 L368.8 503.5 L370.3 504.5 L371.1 504.3 L373.1 505.7 L374 504.7 L376 506.2 L377.1 505.9 L378.3 506 L380 505.8 L381.7 504.9 L382.7 507 L384.7 507.5 L386.1 506.6 L387.5 507.4 L389.6 506.8 L390.9 506.4 L392.7 505.5 L393.6 505.2 L394.7 503.9 L396.2 504 L396.6 499.7 L396.3 495.6 L396.6 493.5 L396.4 490.5 L396.9 487.7 L397.1 484 L397.1 481.1 L397.7 478.1 L397.9 476.6 L398 474.2 L397.5 472.7 L398.1 471.6 L399.2 470.7 L400.8 470 L401.8 470.1 L403.3 470.2 L404.1 470.7 L406 471 L407 471.2 L407.7 473 L408.6 474.8 L409.8 473.9 L410.6 473.4 L412 474 L413 475.6 L413.4 476.8 L413.7 476.2 L414.6 477.7 L415.8 480.4 L415.8 479.8 L418.4 482.4 L419.4 484.3 L421.7 486.4 L423.5 488.3 L425.5 489.3 L426.6 489.7 L428.6 488.9 L430.7 490.5 L431.9 490.5 L433.8 489.9 L435.3 491.9 L437.9 492.6 L439.4 493 L441 491.9 L442.4 493.4 L444.5 493.3 L446.3 495.1 L448 495.7 L450.4 495.6 L451.6 497.3 L454.2 499.3 L456.2 498.2 L457.9 500.5 L459.7 501.1 L462.2 501.1 L464.8 501.1 L467.6 501.7 L470.4 503.8 L472.1 506.3 L474.8 507.9 L477.6 507.9 L479.7 507.8 L481.9 508.5 L483.7 509.5 L486.1 509.7 L487.8 512.6 L490.1 514.9 L491.3 516.8 L493.4 519 L495 518.5 L497.1 521 L499.4 520.7 L499.1 521" fill="none" stroke="#ffc21a" stroke-width="0.95" stroke-linejoin="round" stroke-linecap="round"/>
<rect x="437.7" y="242.4" width="65.4" height="44.8" fill="#fff" stroke="#444" stroke-width="0.9"/>
<line x1="440" y1="248.3" x2="451" y2="248.3" stroke="#222" stroke-width="1.1" stroke-opacity="0.7"/>
<text x="452.7" y="251.8" font-size="9" text-anchor="start" font-weight="normal" fill="#111" stroke="#111" stroke-width="0.12">Sapp. 293K</text>
<line x1="440" y1="259" x2="451" y2="259" stroke="#ff1a1a" stroke-width="1.1" stroke-opacity="0.7"/>
<text x="452.7" y="262.5" font-size="9" text-anchor="start" font-weight="normal" fill="#111" stroke="#111" stroke-width="0.12">Sapp. 400K</text>
<line x1="440" y1="269.7" x2="451" y2="269.7" stroke="#1a1aff" stroke-width="1.1" stroke-opacity="0.7"/>
<text x="452.7" y="273.2" font-size="9" text-anchor="start" font-weight="normal" fill="#111" stroke="#111" stroke-width="0.12">Dosed 293K</text>
<line x1="440" y1="280.4" x2="451" y2="280.4" stroke="#ffc21a" stroke-width="1.1" stroke-opacity="0.7"/>
<text x="452.7" y="283.9" font-size="9" text-anchor="start" font-weight="normal" fill="#111" stroke="#111" stroke-width="0.12">Dosed 420K</text>
<rect x="437.7" y="385.3" width="65.4" height="45.4" fill="#fff" stroke="#444" stroke-width="0.9"/>
<line x1="440" y1="391.2" x2="451" y2="391.2" stroke="#222" stroke-width="1.1" stroke-opacity="0.7"/>
<text x="452.7" y="394.7" font-size="9" text-anchor="start" font-weight="normal" fill="#111" stroke="#111" stroke-width="0.12">Sapp. 293K</text>
<line x1="440" y1="401.9" x2="451" y2="401.9" stroke="#ff1a1a" stroke-width="1.1" stroke-opacity="0.7"/>
<text x="452.7" y="405.4" font-size="9" text-anchor="start" font-weight="normal" fill="#111" stroke="#111" stroke-width="0.12">Sapp. 400K</text>
<line x1="440" y1="412.6" x2="451" y2="412.6" stroke="#1a1aff" stroke-width="1.1" stroke-opacity="0.7"/>
<text x="452.7" y="416.1" font-size="9" text-anchor="start" font-weight="normal" fill="#111" stroke="#111" stroke-width="0.12">Dosed 293K</text>
<line x1="440" y1="423.3" x2="451" y2="423.3" stroke="#ffc21a" stroke-width="1.1" stroke-opacity="0.7"/>
<text x="452.7" y="426.8" font-size="9" text-anchor="start" font-weight="normal" fill="#111" stroke="#111" stroke-width="0.12">Dosed 420K</text>
</g>
</svg>
</body></html>
